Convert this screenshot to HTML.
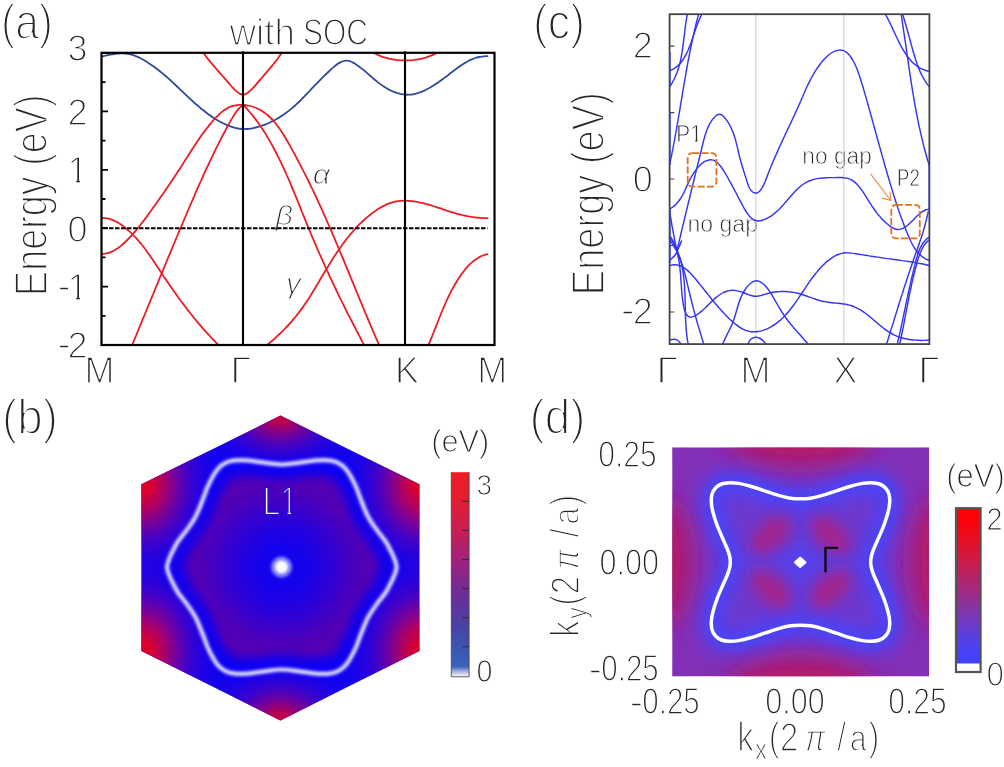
<!DOCTYPE html>
<html lang="en"><head><meta charset="utf-8"><title>Band structures and Fermi surfaces</title>
<style>
html,body{margin:0;padding:0;background:#fff}
svg{display:block}
text{font-family:"Liberation Sans","DejaVu Sans",sans-serif;fill:#262626}
</style></head><body>
<svg width="1004" height="767" viewBox="0 0 1004 767">
<rect width="1004" height="767" fill="#fff"/>
<g id="panel-a">
<clipPath id="clipA"><rect x="101.5" y="53" width="393" height="292"/></clipPath>
<g clip-path="url(#clipA)" fill="none" stroke-width="1.8" stroke-linecap="round">
<path d="M101.5 56.5C102.2 56.4 104.2 55.9 105.5 55.6C106.9 55.4 108.2 55.1 109.6 54.8C110.9 54.5 112.3 54.3 113.6 54.0C114.9 53.8 116.3 53.6 117.6 53.5C118.9 53.4 120.2 53.3 121.6 53.3C122.9 53.3 124.2 53.3 125.5 53.5C126.8 53.6 128.1 53.8 129.3 54.1C130.6 54.4 131.9 54.7 133.1 55.2C134.4 55.6 135.7 56.0 136.9 56.6C138.1 57.1 139.4 57.7 140.6 58.3C141.8 58.9 143.0 59.6 144.2 60.2C145.4 60.9 146.5 61.6 147.7 62.4C148.8 63.1 150.0 63.9 151.1 64.7C152.2 65.4 153.3 66.2 154.4 67.0C155.5 67.8 156.6 68.7 157.7 69.5C158.7 70.3 159.8 71.2 160.8 72.0C161.9 72.9 162.9 73.7 163.9 74.6C165.0 75.5 166.0 76.3 167.0 77.2C168.0 78.1 169.0 79.0 170.0 79.9C171.0 80.8 172.0 81.7 172.9 82.6C173.9 83.5 174.9 84.5 175.9 85.4C176.8 86.3 177.8 87.2 178.8 88.1C179.8 89.1 180.7 90.0 181.7 90.9C182.7 91.8 183.6 92.8 184.6 93.7C185.6 94.6 186.5 95.5 187.5 96.4C188.5 97.3 189.5 98.3 190.5 99.2C191.4 100.1 192.4 101.0 193.4 101.9C194.4 102.8 195.4 103.7 196.4 104.6C197.5 105.4 198.5 106.3 199.5 107.2C200.5 108.0 201.6 108.9 202.6 109.8C203.7 110.6 204.7 111.4 205.8 112.3C206.9 113.1 208.0 113.9 209.1 114.7C210.2 115.5 211.3 116.3 212.4 117.0C213.5 117.8 214.7 118.5 215.8 119.2C217.0 119.9 218.2 120.6 219.3 121.3C220.5 121.9 221.7 122.6 222.9 123.2C224.1 123.8 225.4 124.3 226.6 124.9C227.8 125.4 229.1 125.9 230.4 126.3C231.6 126.8 232.9 127.2 234.2 127.6C235.5 127.9 236.8 128.2 238.1 128.5C239.4 128.7 240.7 128.9 242.0 129.0C243.4 129.1 244.7 129.1 246.0 129.0C247.3 129.0 248.7 128.8 250.0 128.7C251.3 128.5 252.6 128.2 254.0 127.9C255.3 127.7 256.6 127.3 257.9 126.9C259.2 126.6 260.5 126.2 261.8 125.7C263.1 125.3 264.3 124.8 265.6 124.3C266.9 123.8 268.1 123.3 269.4 122.7C270.6 122.1 271.8 121.5 273.0 120.9C274.2 120.3 275.4 119.6 276.6 119.0C277.8 118.3 279.0 117.6 280.1 116.9C281.3 116.2 282.4 115.4 283.5 114.7C284.7 113.9 285.8 113.1 286.8 112.3C287.9 111.5 289.0 110.7 290.0 109.8C291.1 109.0 292.1 108.1 293.1 107.3C294.1 106.4 295.1 105.5 296.0 104.6C297.0 103.7 298.0 102.8 298.9 101.9C299.9 101.0 300.8 100.0 301.7 99.1C302.7 98.2 303.6 97.2 304.5 96.3C305.4 95.3 306.3 94.4 307.2 93.4C308.2 92.4 309.1 91.5 310.0 90.5C310.9 89.5 311.8 88.6 312.7 87.6C313.7 86.6 314.6 85.7 315.5 84.7C316.5 83.7 317.4 82.8 318.3 81.8C319.3 80.8 320.3 79.8 321.2 78.9C322.2 77.9 323.2 76.9 324.2 75.9C325.2 75.0 326.2 74.0 327.2 73.0C328.3 72.0 329.3 71.0 330.4 70.0C331.4 69.0 332.5 68.0 333.6 67.1C334.7 66.2 335.8 65.3 336.9 64.5C338.0 63.7 339.2 63.0 340.3 62.4C341.5 61.8 342.7 61.3 343.8 61.0C345.0 60.7 346.2 60.6 347.4 60.7C348.5 60.7 349.7 61.1 350.9 61.5C352.1 62.0 353.2 62.7 354.4 63.3C355.5 64.0 356.6 64.8 357.7 65.5C358.8 66.3 359.9 67.1 360.9 67.9C362.0 68.7 363.0 69.6 364.1 70.4C365.1 71.3 366.1 72.2 367.2 73.1C368.2 74.0 369.2 74.9 370.2 75.8C371.3 76.7 372.3 77.6 373.3 78.5C374.4 79.3 375.4 80.2 376.5 81.1C377.6 82.0 378.6 82.8 379.7 83.6C380.8 84.5 381.9 85.3 383.1 86.0C384.2 86.8 385.4 87.6 386.6 88.2C387.7 88.9 388.9 89.6 390.2 90.2C391.4 90.8 392.6 91.4 393.9 91.9C395.1 92.4 396.4 92.8 397.6 93.2C398.9 93.6 400.2 93.9 401.4 94.2C402.7 94.4 404.0 94.6 405.2 94.7C406.5 94.8 407.7 94.8 409.0 94.7C410.2 94.6 411.5 94.5 412.7 94.3C414.0 94.1 415.2 93.8 416.5 93.5C417.7 93.1 418.9 92.7 420.1 92.3C421.4 91.9 422.6 91.4 423.8 90.8C425.0 90.3 426.2 89.7 427.4 89.0C428.6 88.4 429.8 87.7 431.0 87.0C432.2 86.3 433.4 85.6 434.5 84.8C435.7 84.1 436.9 83.3 438.1 82.5C439.2 81.7 440.4 80.8 441.5 80.0C442.7 79.1 443.8 78.3 445.0 77.4C446.1 76.6 447.2 75.7 448.4 74.9C449.5 74.0 450.6 73.1 451.7 72.3C452.8 71.4 453.9 70.6 455.0 69.8C456.1 68.9 457.2 68.1 458.3 67.3C459.4 66.6 460.5 65.8 461.6 65.0C462.7 64.3 463.8 63.6 464.9 62.9C466.0 62.3 467.1 61.6 468.3 61.0C469.4 60.4 470.5 59.9 471.7 59.4C472.9 58.9 474.1 58.4 475.4 58.0C476.6 57.6 477.9 57.3 479.2 57.0C480.5 56.8 481.8 56.5 483.2 56.4C484.6 56.3 486.8 56.2 487.5 56.2" stroke="#2d4b9d"/>
<path d="M200.0 48.0C200.3 48.5 201.4 50.1 202.1 51.1C202.8 52.1 203.5 53.0 204.2 54.0C204.9 55.0 205.6 55.9 206.3 56.8C207.0 57.7 207.7 58.7 208.4 59.6C209.2 60.5 209.9 61.4 210.6 62.2C211.4 63.1 212.1 64.0 212.8 64.9C213.6 65.8 214.3 66.6 215.1 67.5C215.8 68.4 216.6 69.3 217.4 70.1C218.2 71.0 218.9 71.9 219.7 72.8C220.5 73.7 221.3 74.6 222.1 75.5C222.9 76.4 223.7 77.3 224.5 78.2C225.3 79.2 226.2 80.1 227.0 81.1C227.8 82.1 228.7 83.1 229.5 84.0C230.4 85.0 231.3 86.0 232.1 87.0C233.0 88.0 233.9 88.9 234.7 89.8C235.6 90.6 236.5 91.5 237.4 92.1C238.3 92.8 239.2 93.5 240.1 93.9C241.0 94.3 241.9 94.7 242.8 94.7C243.7 94.7 244.6 94.5 245.5 94.1C246.4 93.7 247.3 93.1 248.1 92.5C249.0 91.8 249.9 91.0 250.8 90.2C251.7 89.4 252.6 88.5 253.4 87.5C254.3 86.6 255.2 85.6 256.0 84.6C256.9 83.6 257.7 82.6 258.5 81.6C259.4 80.7 260.2 79.7 261.0 78.8C261.8 77.8 262.6 76.9 263.4 76.0C264.2 75.0 265.0 74.1 265.8 73.2C266.6 72.3 267.3 71.4 268.1 70.5C268.9 69.6 269.6 68.7 270.4 67.8C271.1 66.9 271.8 66.1 272.6 65.2C273.3 64.3 274.0 63.4 274.7 62.5C275.4 61.6 276.2 60.6 276.9 59.7C277.6 58.8 278.3 57.9 278.9 56.9C279.6 56.0 280.3 55.0 281.0 54.1C281.7 53.1 282.3 52.1 283.0 51.1C283.7 50.1 284.7 48.5 285.0 48.0" stroke="#ec1c24"/>
<path d="M243.0 104.8C242.4 104.8 240.5 104.8 239.2 104.8C238.0 104.9 236.8 105.1 235.7 105.3C234.5 105.5 233.4 105.8 232.3 106.1C231.2 106.5 230.2 106.9 229.1 107.3C228.1 107.8 227.1 108.4 226.1 108.9C225.1 109.5 224.2 110.2 223.2 110.9C222.3 111.6 221.4 112.3 220.5 113.1C219.6 113.9 218.7 114.7 217.9 115.6C217.0 116.4 216.2 117.3 215.4 118.2C214.5 119.0 213.7 119.9 212.9 120.8C212.2 121.7 211.4 122.6 210.6 123.6C209.9 124.5 209.1 125.4 208.4 126.3C207.6 127.2 206.9 128.1 206.2 129.1C205.5 130.0 204.8 130.9 204.1 131.9C203.4 132.8 202.7 133.8 202.0 134.7C201.3 135.7 200.6 136.6 200.0 137.6C199.3 138.5 198.6 139.5 198.0 140.5C197.3 141.4 196.7 142.4 196.0 143.4C195.4 144.3 194.8 145.3 194.1 146.3C193.5 147.2 192.9 148.2 192.2 149.2C191.6 150.2 191.0 151.2 190.3 152.2C189.7 153.1 189.1 154.1 188.5 155.1C187.8 156.1 187.2 157.1 186.6 158.1C186.0 159.1 185.3 160.1 184.7 161.1C184.1 162.1 183.4 163.1 182.8 164.1C182.2 165.1 181.5 166.1 180.9 167.1C180.2 168.0 179.6 169.0 178.9 170.0C178.3 171.0 177.6 172.0 177.0 173.0C176.3 174.0 175.6 175.0 175.0 176.0C174.3 177.0 173.6 178.0 173.0 179.0C172.3 180.0 171.6 181.0 171.0 182.0C170.3 183.0 169.6 184.0 169.0 185.0C168.3 186.0 167.6 187.0 166.9 188.0C166.3 189.0 165.6 189.9 164.9 190.9C164.2 191.9 163.5 192.9 162.9 193.9C162.2 194.9 161.5 195.8 160.8 196.8C160.1 197.8 159.4 198.8 158.8 199.8C158.1 200.7 157.4 201.7 156.7 202.7C156.0 203.6 155.3 204.6 154.7 205.6C154.0 206.5 153.3 207.5 152.6 208.4C151.9 209.4 151.2 210.4 150.6 211.3C149.9 212.3 149.2 213.2 148.5 214.1C147.8 215.1 147.1 216.0 146.5 217.0C145.8 217.9 145.1 218.8 144.4 219.8C143.7 220.7 143.0 221.6 142.3 222.5C141.6 223.4 140.9 224.3 140.2 225.3C139.5 226.2 138.8 227.1 138.0 228.0C137.3 228.9 136.6 229.7 135.8 230.6C135.1 231.5 134.3 232.4 133.5 233.3C132.8 234.2 132.0 235.0 131.2 235.9C130.4 236.8 129.6 237.6 128.8 238.5C127.9 239.3 127.1 240.2 126.2 241.0C125.4 241.8 124.5 242.7 123.6 243.5C122.7 244.3 121.8 245.1 120.9 245.9C119.9 246.6 119.0 247.4 118.0 248.1C117.0 248.7 116.0 249.4 115.0 250.0C114.0 250.6 113.0 251.2 111.9 251.6C110.8 252.1 109.7 252.6 108.6 252.9C107.5 253.2 106.3 253.5 105.1 253.7C104.0 253.9 102.1 254.0 101.5 254.0" stroke="#ec1c24"/>
<path d="M243.0 104.8C242.6 105.2 241.2 106.3 240.4 107.1C239.5 107.9 238.8 108.8 238.0 109.6C237.3 110.5 236.6 111.4 235.9 112.3C235.3 113.3 234.6 114.2 234.0 115.2C233.4 116.1 232.8 117.1 232.2 118.1C231.6 119.1 231.1 120.1 230.5 121.1C229.9 122.1 229.4 123.1 228.8 124.1C228.2 125.1 227.7 126.1 227.1 127.2C226.6 128.2 226.0 129.2 225.5 130.2C224.9 131.2 224.4 132.2 223.9 133.3C223.3 134.3 222.8 135.3 222.3 136.3C221.7 137.4 221.2 138.4 220.7 139.4C220.1 140.5 219.6 141.5 219.1 142.5C218.5 143.6 218.0 144.6 217.5 145.7C217.0 146.7 216.5 147.7 215.9 148.8C215.4 149.8 214.9 150.9 214.4 151.9C213.9 153.0 213.4 154.0 212.9 155.1C212.4 156.1 211.9 157.2 211.4 158.2C210.9 159.3 210.4 160.3 209.9 161.4C209.4 162.4 208.9 163.5 208.4 164.6C207.9 165.6 207.4 166.7 206.9 167.7C206.4 168.8 205.9 169.9 205.4 170.9C204.9 172.0 204.4 173.1 203.9 174.1C203.5 175.2 203.0 176.3 202.5 177.3C202.0 178.4 201.5 179.5 201.1 180.5C200.6 181.6 200.1 182.7 199.6 183.7C199.1 184.8 198.7 185.9 198.2 187.0C197.7 188.0 197.3 189.1 196.8 190.2C196.3 191.3 195.8 192.3 195.4 193.4C194.9 194.5 194.4 195.6 194.0 196.6C193.5 197.7 193.0 198.8 192.6 199.9C192.1 200.9 191.6 202.0 191.2 203.1C190.7 204.2 190.3 205.2 189.8 206.3C189.3 207.4 188.9 208.5 188.4 209.6C187.9 210.6 187.5 211.7 187.0 212.8C186.6 213.9 186.1 214.9 185.7 216.0C185.2 217.1 184.7 218.2 184.3 219.3C183.8 220.3 183.4 221.4 182.9 222.5C182.5 223.6 182.0 224.6 181.6 225.7C181.1 226.8 180.6 227.9 180.2 228.9C179.7 230.0 179.3 231.1 178.8 232.2C178.4 233.2 177.9 234.3 177.5 235.4C177.0 236.5 176.6 237.6 176.1 238.6C175.7 239.7 175.2 240.8 174.8 241.9C174.3 242.9 173.9 244.0 173.4 245.1C173.0 246.2 172.5 247.2 172.1 248.3C171.6 249.4 171.2 250.5 170.7 251.5C170.3 252.6 169.8 253.7 169.4 254.8C168.9 255.8 168.5 256.9 168.0 258.0C167.6 259.1 167.2 260.1 166.7 261.2C166.3 262.3 165.8 263.4 165.4 264.4C164.9 265.5 164.5 266.6 164.0 267.7C163.6 268.7 163.1 269.8 162.7 270.9C162.3 272.0 161.8 273.0 161.4 274.1C160.9 275.2 160.5 276.3 160.0 277.3C159.6 278.4 159.1 279.5 158.7 280.6C158.3 281.7 157.8 282.7 157.4 283.8C156.9 284.9 156.5 286.0 156.0 287.0C155.6 288.1 155.2 289.2 154.7 290.3C154.3 291.3 153.8 292.4 153.4 293.5C152.9 294.6 152.5 295.6 152.0 296.7C151.6 297.8 151.2 298.9 150.7 299.9C150.3 301.0 149.8 302.1 149.4 303.2C148.9 304.3 148.5 305.3 148.1 306.4C147.6 307.5 147.2 308.6 146.7 309.6C146.3 310.7 145.8 311.8 145.4 312.9C145.0 314.0 144.5 315.0 144.1 316.1C143.6 317.2 143.2 318.3 142.7 319.3C142.3 320.4 141.8 321.5 141.4 322.6C141.0 323.7 140.5 324.7 140.1 325.8C139.6 326.9 139.2 328.0 138.7 329.1C138.3 330.1 137.8 331.2 137.4 332.3C137.0 333.4 136.5 334.4 136.1 335.5C135.6 336.6 135.2 337.7 134.7 338.8C134.3 339.9 133.8 340.9 133.4 342.0C132.9 343.1 132.5 344.2 132.0 345.3C131.6 346.3 131.1 347.4 130.7 348.5C130.2 349.6 129.8 350.7 129.3 351.8C128.9 352.8 128.2 354.5 128.0 355.0" stroke="#ec1c24"/>
<path d="M101.5 218.0C102.1 218.0 103.9 218.0 105.0 218.1C106.2 218.2 107.3 218.4 108.4 218.7C109.5 218.9 110.6 219.3 111.7 219.7C112.8 220.1 113.8 220.5 114.8 221.0C115.9 221.5 116.9 222.1 117.9 222.6C118.9 223.2 119.8 223.9 120.8 224.5C121.8 225.2 122.7 225.8 123.6 226.5C124.5 227.2 125.4 227.9 126.3 228.7C127.2 229.4 128.1 230.2 129.0 230.9C129.8 231.7 130.7 232.5 131.5 233.3C132.4 234.1 133.2 234.9 134.0 235.8C134.8 236.6 135.6 237.5 136.4 238.3C137.2 239.2 137.9 240.1 138.7 241.0C139.5 241.9 140.2 242.8 141.0 243.7C141.7 244.6 142.4 245.5 143.2 246.5C143.9 247.4 144.6 248.3 145.3 249.3C146.0 250.2 146.7 251.2 147.4 252.2C148.1 253.1 148.8 254.1 149.5 255.1C150.2 256.1 150.9 257.0 151.5 258.0C152.2 259.0 152.9 260.0 153.6 261.0C154.2 262.0 154.9 263.0 155.5 264.0C156.2 265.0 156.9 266.0 157.5 267.0C158.2 268.0 158.8 269.0 159.5 270.0C160.1 271.0 160.8 272.0 161.5 272.9C162.1 273.9 162.8 274.9 163.4 275.9C164.1 276.9 164.7 277.9 165.4 278.9C166.1 279.8 166.7 280.8 167.4 281.8C168.0 282.8 168.7 283.7 169.4 284.7C170.0 285.7 170.7 286.6 171.4 287.6C172.0 288.5 172.7 289.5 173.4 290.5C174.0 291.4 174.7 292.4 175.4 293.3C176.0 294.3 176.7 295.2 177.4 296.2C178.1 297.1 178.8 298.0 179.4 299.0C180.1 299.9 180.8 300.8 181.5 301.8C182.2 302.7 182.9 303.6 183.6 304.6C184.3 305.5 185.0 306.4 185.7 307.3C186.4 308.2 187.1 309.2 187.8 310.1C188.5 311.0 189.2 311.9 189.9 312.8C190.6 313.7 191.3 314.6 192.1 315.5C192.8 316.4 193.5 317.3 194.2 318.2C195.0 319.1 195.7 320.0 196.4 320.9C197.2 321.8 197.9 322.7 198.7 323.5C199.4 324.4 200.2 325.3 200.9 326.2C201.7 327.1 202.5 327.9 203.2 328.8C204.0 329.7 204.8 330.5 205.5 331.4C206.3 332.3 207.1 333.1 207.9 334.0C208.7 334.8 209.5 335.7 210.3 336.5C211.1 337.4 211.9 338.2 212.7 339.1C213.5 339.9 214.3 340.8 215.1 341.6C216.0 342.5 216.8 343.3 217.6 344.1C218.5 345.0 219.3 345.8 220.2 346.6C221.0 347.5 221.9 348.3 222.7 349.1C223.6 349.9 224.5 350.7 225.3 351.6C226.2 352.4 227.6 353.6 228.0 354.0" stroke="#ec1c24"/>
<path d="M243.0 104.8C243.6 104.9 245.5 105.1 246.8 105.3C248.0 105.5 249.2 105.7 250.3 106.0C251.5 106.3 252.6 106.6 253.7 107.0C254.8 107.4 255.8 107.8 256.9 108.3C257.9 108.7 258.9 109.3 259.9 109.8C260.9 110.3 261.8 110.9 262.8 111.5C263.7 112.1 264.6 112.8 265.5 113.4C266.4 114.1 267.2 114.8 268.1 115.5C268.9 116.3 269.7 117.0 270.5 117.8C271.3 118.6 272.1 119.4 272.9 120.2C273.6 121.1 274.4 121.9 275.1 122.8C275.8 123.7 276.5 124.6 277.2 125.5C277.9 126.4 278.6 127.4 279.3 128.3C280.0 129.3 280.6 130.2 281.3 131.2C281.9 132.2 282.5 133.2 283.2 134.2C283.8 135.2 284.4 136.2 285.0 137.2C285.6 138.2 286.2 139.2 286.8 140.3C287.4 141.3 288.0 142.3 288.6 143.4C289.2 144.4 289.8 145.4 290.4 146.5C291.0 147.5 291.5 148.6 292.1 149.6C292.7 150.6 293.2 151.7 293.8 152.7C294.4 153.8 295.0 154.8 295.5 155.9C296.1 156.9 296.6 157.9 297.2 159.0C297.7 160.0 298.3 161.1 298.8 162.1C299.4 163.2 299.9 164.2 300.5 165.3C301.0 166.3 301.6 167.4 302.1 168.4C302.7 169.5 303.2 170.5 303.7 171.6C304.3 172.6 304.8 173.7 305.3 174.7C305.8 175.8 306.4 176.8 306.9 177.9C307.4 178.9 307.9 180.0 308.5 181.1C309.0 182.1 309.5 183.2 310.0 184.2C310.5 185.3 311.0 186.3 311.5 187.4C312.1 188.5 312.6 189.5 313.1 190.6C313.6 191.6 314.1 192.7 314.6 193.8C315.1 194.8 315.6 195.9 316.1 196.9C316.6 198.0 317.1 199.1 317.6 200.1C318.0 201.2 318.5 202.3 319.0 203.3C319.5 204.4 320.0 205.4 320.5 206.5C321.0 207.6 321.5 208.6 321.9 209.7C322.4 210.8 322.9 211.8 323.4 212.9C323.9 214.0 324.3 215.0 324.8 216.1C325.3 217.2 325.8 218.2 326.2 219.3C326.7 220.4 327.2 221.5 327.6 222.5C328.1 223.6 328.6 224.7 329.0 225.7C329.5 226.8 330.0 227.9 330.4 229.0C330.9 230.0 331.4 231.1 331.8 232.2C332.3 233.2 332.7 234.3 333.2 235.4C333.7 236.5 334.1 237.5 334.6 238.6C335.0 239.7 335.5 240.8 335.9 241.8C336.4 242.9 336.9 244.0 337.3 245.0C337.8 246.1 338.2 247.2 338.7 248.3C339.1 249.4 339.6 250.4 340.0 251.5C340.5 252.6 340.9 253.7 341.4 254.7C341.8 255.8 342.3 256.9 342.7 258.0C343.2 259.0 343.6 260.1 344.0 261.2C344.5 262.3 344.9 263.3 345.4 264.4C345.8 265.5 346.3 266.6 346.7 267.7C347.2 268.7 347.6 269.8 348.1 270.9C348.5 272.0 348.9 273.1 349.4 274.1C349.8 275.2 350.3 276.3 350.7 277.4C351.2 278.4 351.6 279.5 352.0 280.6C352.5 281.7 352.9 282.8 353.4 283.8C353.8 284.9 354.3 286.0 354.7 287.1C355.1 288.2 355.6 289.2 356.0 290.3C356.5 291.4 356.9 292.5 357.4 293.6C357.8 294.6 358.3 295.7 358.7 296.8C359.1 297.9 359.6 299.0 360.0 300.0C360.5 301.1 360.9 302.2 361.4 303.3C361.8 304.4 362.3 305.4 362.7 306.5C363.2 307.6 363.6 308.7 364.1 309.8C364.5 310.8 365.0 311.9 365.4 313.0C365.9 314.1 366.3 315.2 366.8 316.2C367.2 317.3 367.7 318.4 368.1 319.5C368.6 320.5 369.0 321.6 369.5 322.7C369.9 323.8 370.4 324.9 370.8 325.9C371.3 327.0 371.8 328.1 372.2 329.2C372.7 330.3 373.1 331.3 373.6 332.4C374.1 333.5 374.5 334.6 375.0 335.6C375.5 336.7 375.9 337.8 376.4 338.9C376.9 339.9 377.3 341.0 377.8 342.1C378.3 343.2 378.7 344.3 379.2 345.3C379.7 346.4 380.2 347.5 380.6 348.6C381.1 349.6 381.6 350.7 382.1 351.8C382.5 352.9 383.3 354.5 383.5 355.0" stroke="#ec1c24"/>
<path d="M243.0 104.8C243.4 105.2 244.7 106.5 245.5 107.3C246.3 108.2 247.1 109.0 247.8 109.9C248.6 110.7 249.4 111.6 250.1 112.5C250.9 113.4 251.6 114.3 252.4 115.2C253.1 116.1 253.8 117.0 254.5 117.9C255.2 118.8 255.9 119.7 256.6 120.7C257.3 121.6 258.0 122.5 258.7 123.5C259.3 124.4 260.0 125.4 260.6 126.3C261.3 127.3 261.9 128.3 262.6 129.2C263.2 130.2 263.8 131.2 264.4 132.1C265.1 133.1 265.7 134.1 266.3 135.1C266.9 136.1 267.5 137.1 268.1 138.1C268.7 139.1 269.2 140.1 269.8 141.1C270.4 142.1 271.0 143.1 271.5 144.1C272.1 145.1 272.6 146.2 273.2 147.2C273.8 148.2 274.3 149.2 274.8 150.2C275.4 151.3 275.9 152.3 276.4 153.3C277.0 154.4 277.5 155.4 278.0 156.5C278.5 157.5 279.1 158.5 279.6 159.6C280.1 160.6 280.6 161.7 281.1 162.7C281.6 163.8 282.1 164.9 282.6 165.9C283.1 167.0 283.6 168.0 284.1 169.1C284.6 170.2 285.0 171.2 285.5 172.3C286.0 173.4 286.5 174.4 286.9 175.5C287.4 176.6 287.9 177.7 288.4 178.7C288.8 179.8 289.3 180.9 289.8 182.0C290.2 183.0 290.7 184.1 291.1 185.2C291.6 186.3 292.0 187.4 292.5 188.5C293.0 189.5 293.4 190.6 293.9 191.7C294.3 192.8 294.7 193.9 295.2 195.0C295.6 196.1 296.1 197.1 296.5 198.2C297.0 199.3 297.4 200.4 297.9 201.5C298.3 202.6 298.7 203.7 299.2 204.8C299.6 205.9 300.1 207.0 300.5 208.1C300.9 209.2 301.4 210.2 301.8 211.3C302.3 212.4 302.7 213.5 303.1 214.6C303.6 215.7 304.0 216.8 304.5 217.9C304.9 219.0 305.3 220.1 305.8 221.2C306.2 222.2 306.7 223.3 307.1 224.4C307.5 225.5 308.0 226.6 308.4 227.7C308.9 228.8 309.3 229.8 309.8 230.9C310.2 232.0 310.7 233.1 311.1 234.2C311.6 235.3 312.0 236.3 312.5 237.4C313.0 238.5 313.4 239.6 313.9 240.7C314.3 241.7 314.8 242.8 315.2 243.9C315.7 245.0 316.2 246.0 316.6 247.1C317.1 248.2 317.6 249.2 318.0 250.3C318.5 251.4 319.0 252.5 319.4 253.5C319.9 254.6 320.4 255.7 320.9 256.7C321.3 257.8 321.8 258.9 322.3 259.9C322.8 261.0 323.2 262.1 323.7 263.1C324.2 264.2 324.7 265.2 325.2 266.3C325.6 267.4 326.1 268.4 326.6 269.5C327.1 270.6 327.6 271.6 328.1 272.7C328.5 273.7 329.0 274.8 329.5 275.8C330.0 276.9 330.5 278.0 331.0 279.0C331.5 280.1 332.0 281.1 332.5 282.2C333.0 283.2 333.5 284.3 334.0 285.3C334.5 286.4 335.0 287.4 335.5 288.5C336.0 289.5 336.5 290.6 337.0 291.6C337.5 292.7 338.0 293.7 338.5 294.8C339.0 295.8 339.5 296.9 340.0 297.9C340.6 299.0 341.1 300.0 341.6 301.1C342.1 302.1 342.6 303.2 343.1 304.2C343.6 305.2 344.2 306.3 344.7 307.3C345.2 308.4 345.7 309.4 346.2 310.5C346.8 311.5 347.3 312.5 347.8 313.6C348.3 314.6 348.9 315.7 349.4 316.7C349.9 317.7 350.4 318.8 351.0 319.8C351.5 320.9 352.0 321.9 352.6 322.9C353.1 324.0 353.6 325.0 354.2 326.1C354.7 327.1 355.3 328.1 355.8 329.2C356.3 330.2 356.9 331.2 357.4 332.3C358.0 333.3 358.5 334.4 359.0 335.4C359.6 336.4 360.1 337.5 360.7 338.5C361.2 339.5 361.8 340.6 362.3 341.6C362.9 342.6 363.4 343.7 364.0 344.7C364.5 345.7 365.1 346.8 365.6 347.8C366.2 348.8 366.8 349.9 367.3 350.9C367.9 351.9 368.7 353.5 369.0 354.0" stroke="#ec1c24"/>
<path d="M255.0 354.0C255.5 353.7 256.9 352.7 257.9 352.0C258.8 351.3 259.8 350.6 260.7 349.9C261.6 349.2 262.6 348.5 263.5 347.8C264.4 347.1 265.4 346.4 266.3 345.6C267.2 344.9 268.1 344.2 269.0 343.4C269.9 342.7 270.8 341.9 271.7 341.1C272.6 340.4 273.5 339.6 274.4 338.8C275.3 338.0 276.1 337.2 277.0 336.4C277.9 335.6 278.7 334.8 279.6 334.0C280.4 333.2 281.3 332.4 282.1 331.5C283.0 330.7 283.8 329.9 284.6 329.0C285.4 328.2 286.2 327.3 287.0 326.5C287.9 325.6 288.6 324.8 289.4 323.9C290.2 323.0 291.0 322.1 291.8 321.3C292.5 320.4 293.3 319.5 294.0 318.6C294.8 317.7 295.5 316.8 296.3 315.9C297.0 315.0 297.7 314.1 298.4 313.1C299.1 312.2 299.8 311.3 300.5 310.4C301.2 309.4 301.9 308.5 302.6 307.6C303.2 306.6 303.9 305.7 304.5 304.8C305.2 303.8 305.8 302.9 306.5 301.9C307.1 300.9 307.7 300.0 308.4 299.0C309.0 298.1 309.6 297.1 310.2 296.1C310.8 295.1 311.4 294.2 312.0 293.2C312.6 292.2 313.2 291.2 313.8 290.3C314.4 289.3 315.0 288.3 315.6 287.3C316.2 286.3 316.8 285.3 317.4 284.3C318.0 283.3 318.6 282.3 319.2 281.3C319.7 280.3 320.3 279.3 320.9 278.3C321.5 277.3 322.1 276.3 322.7 275.3C323.3 274.3 323.9 273.3 324.5 272.3C325.1 271.3 325.7 270.3 326.3 269.3C326.9 268.3 327.5 267.2 328.2 266.2C328.8 265.2 329.4 264.2 330.0 263.2C330.7 262.2 331.3 261.2 331.9 260.2C332.6 259.1 333.2 258.1 333.9 257.1C334.5 256.1 335.2 255.1 335.9 254.1C336.5 253.1 337.2 252.1 337.9 251.1C338.6 250.1 339.2 249.1 339.9 248.2C340.6 247.2 341.3 246.2 342.0 245.2C342.7 244.2 343.4 243.3 344.2 242.3C344.9 241.4 345.6 240.4 346.3 239.5C347.1 238.5 347.8 237.6 348.6 236.6C349.3 235.7 350.1 234.8 350.8 233.9C351.6 233.0 352.4 232.1 353.2 231.2C353.9 230.3 354.7 229.4 355.5 228.5C356.3 227.6 357.1 226.8 357.9 225.9C358.8 225.1 359.6 224.2 360.4 223.4C361.3 222.6 362.1 221.8 362.9 221.0C363.8 220.2 364.7 219.4 365.5 218.6C366.4 217.9 367.3 217.1 368.2 216.4C369.1 215.6 370.0 214.9 370.9 214.2C371.8 213.5 372.7 212.8 373.6 212.1C374.6 211.4 375.5 210.8 376.4 210.1C377.4 209.5 378.4 208.9 379.3 208.3C380.3 207.7 381.3 207.1 382.3 206.6C383.3 206.0 384.3 205.5 385.3 205.1C386.3 204.6 387.3 204.1 388.4 203.7C389.4 203.3 390.5 202.9 391.5 202.6C392.6 202.3 393.7 202.0 394.8 201.7C395.8 201.5 396.9 201.3 398.1 201.1C399.2 201.0 400.3 200.9 401.4 200.8C402.5 200.7 403.7 200.7 404.8 200.7C406.0 200.7 407.1 200.7 408.3 200.8C409.5 200.9 410.6 201.0 411.8 201.1C413.0 201.3 414.1 201.4 415.3 201.6C416.5 201.8 417.7 202.0 418.8 202.3C420.0 202.5 421.2 202.8 422.4 203.0C423.5 203.3 424.7 203.6 425.9 203.9C427.1 204.2 428.2 204.6 429.4 204.9C430.6 205.3 431.7 205.6 432.9 206.0C434.0 206.3 435.2 206.7 436.3 207.1C437.5 207.5 438.6 207.9 439.7 208.2C440.9 208.6 442.0 209.0 443.1 209.4C444.3 209.8 445.4 210.1 446.5 210.5C447.7 210.9 448.8 211.3 449.9 211.6C451.0 212.0 452.2 212.3 453.3 212.7C454.4 213.0 455.5 213.3 456.6 213.6C457.7 214.0 458.9 214.3 460.0 214.5C461.1 214.8 462.2 215.1 463.3 215.3C464.5 215.6 465.6 215.8 466.7 216.0C467.8 216.3 469.0 216.5 470.1 216.7C471.2 216.8 472.4 217.0 473.5 217.2C474.6 217.3 475.8 217.5 476.9 217.6C478.1 217.7 479.2 217.8 480.4 217.9C481.6 218.0 482.7 218.1 483.9 218.1C485.1 218.2 486.9 218.2 487.5 218.2" stroke="#ec1c24"/>
<path d="M424.0 355.0C424.2 354.5 425.0 352.9 425.5 351.8C426.0 350.8 426.4 349.7 426.9 348.7C427.4 347.6 427.8 346.5 428.3 345.5C428.8 344.4 429.2 343.3 429.7 342.2C430.1 341.2 430.6 340.1 431.0 339.0C431.4 337.9 431.9 336.8 432.3 335.7C432.7 334.6 433.2 333.5 433.6 332.5C434.0 331.4 434.5 330.3 434.9 329.2C435.3 328.1 435.8 327.0 436.2 325.9C436.6 324.8 437.0 323.7 437.5 322.6C437.9 321.5 438.3 320.4 438.8 319.3C439.2 318.2 439.6 317.1 440.1 316.0C440.5 314.9 441.0 313.8 441.4 312.7C441.8 311.7 442.3 310.6 442.8 309.5C443.2 308.4 443.7 307.3 444.1 306.2C444.6 305.1 445.1 304.1 445.6 303.0C446.0 301.9 446.5 300.8 447.0 299.8C447.5 298.7 448.0 297.6 448.5 296.6C449.0 295.5 449.6 294.4 450.1 293.4C450.6 292.3 451.2 291.3 451.7 290.2C452.3 289.2 452.8 288.2 453.4 287.1C454.0 286.1 454.6 285.1 455.2 284.0C455.7 283.0 456.4 282.0 457.0 281.0C457.6 280.0 458.2 279.0 458.9 278.0C459.5 277.0 460.2 276.0 460.9 275.0C461.6 274.1 462.3 273.1 463.0 272.2C463.7 271.2 464.4 270.3 465.2 269.4C465.9 268.5 466.7 267.6 467.5 266.7C468.3 265.8 469.1 265.0 469.9 264.2C470.8 263.4 471.6 262.6 472.5 261.9C473.4 261.1 474.3 260.4 475.2 259.8C476.1 259.1 477.0 258.5 478.0 257.9C479.0 257.3 480.0 256.8 481.0 256.3C482.0 255.8 483.1 255.4 484.2 255.0C485.3 254.7 486.9 254.3 487.5 254.1" stroke="#ec1c24"/>
<path d="M366.0 48.0C366.5 48.3 367.9 49.4 368.8 50.0C369.8 50.6 370.8 51.3 371.8 51.8C372.8 52.4 373.8 53.0 374.9 53.5C375.9 54.0 376.9 54.5 378.0 55.0C379.1 55.4 380.2 55.9 381.3 56.3C382.4 56.7 383.5 57.1 384.6 57.4C385.7 57.7 386.8 58.1 388.0 58.4C389.1 58.6 390.3 58.9 391.4 59.1C392.6 59.4 393.7 59.6 394.9 59.7C396.1 59.9 397.2 60.1 398.4 60.2C399.6 60.3 400.8 60.4 401.9 60.4C403.1 60.5 404.3 60.5 405.5 60.5C406.7 60.5 407.9 60.5 409.0 60.4C410.2 60.4 411.4 60.3 412.6 60.2C413.8 60.0 414.9 59.9 416.1 59.7C417.3 59.5 418.4 59.3 419.6 59.1C420.7 58.9 421.9 58.6 423.0 58.3C424.2 58.0 425.3 57.7 426.4 57.4C427.5 57.0 428.6 56.6 429.7 56.2C430.8 55.8 431.9 55.4 433.0 54.9C434.1 54.5 435.1 54.0 436.1 53.5C437.2 52.9 438.2 52.4 439.2 51.8C440.2 51.2 441.2 50.6 442.2 50.0C443.1 49.4 444.5 48.3 445.0 48.0" stroke="#ec1c24"/>
</g>
<text x="312.8" y="184.0" font-size="28.5" textLength="17.5" lengthAdjust="spacingAndGlyphs" stroke="#fff" stroke-width="1.20" font-style="italic">α</text>
<text x="275.5" y="225.0" font-size="28.5" textLength="17.5" lengthAdjust="spacingAndGlyphs" stroke="#fff" stroke-width="1.20" font-style="italic">β</text>
<text x="286.0" y="292.7" font-size="28.5" textLength="15.0" lengthAdjust="spacingAndGlyphs" stroke="#fff" stroke-width="1.20" font-style="italic">γ</text>
<path d="M103 228.3H487.5" stroke="#000" stroke-width="2.1" stroke-dasharray="4.5 1.5" fill="none"/>
<path d="M243 51.2V345M405 51.2V345" stroke="#000" stroke-width="2.1" fill="none"/>
<rect x="101.5" y="52.8" width="393" height="292.2" fill="none" stroke="#000" stroke-width="2.2"/>
<path d="M101.5 53.0h6.5M101.5 82.2h4.0M101.5 111.4h6.5M101.5 140.6h4.0M101.5 169.8h6.5M101.5 199.0h4.0M101.5 228.2h6.5M101.5 257.4h4.0M101.5 286.6h6.5M101.5 315.8h4.0M101.5 345.0h6.5" stroke="#000" stroke-width="1.8" fill="none"/>
<text x="87.5" y="61.3" font-size="36.0" text-anchor="end" stroke="#fff" stroke-width="1.45">3</text>
<text x="87.5" y="124.7" font-size="36.0" text-anchor="end" stroke="#fff" stroke-width="1.45">2</text>
<text x="87.5" y="241.5" font-size="36.0" text-anchor="end" stroke="#fff" stroke-width="1.45">0</text>
<clipPath id="one1"><path d="M65.5 147.1H89.5V179.0H79.9V185.1H76.3V179.0H65.5Z"/></clipPath>
<text x="67.5" y="183.1" font-size="36.0" clip-path="url(#one1)" stroke="#fff" stroke-width="1.45">1</text>
<clipPath id="one2"><path d="M65.5 263.9H89.5V295.8H79.9V301.9H76.3V295.8H65.5Z"/></clipPath>
<text x="67.5" y="299.9" font-size="36.0" clip-path="url(#one2)" stroke="#fff" stroke-width="1.45">1</text>
<text x="87.5" y="358.3" font-size="36.0" text-anchor="end" stroke="#fff" stroke-width="1.45">2</text>
<text x="57.7" y="297.6" font-size="36.0" textLength="12.7" lengthAdjust="spacingAndGlyphs" stroke="#fff" stroke-width="1.35">-</text>
<text x="57.7" y="356.0" font-size="36.0" textLength="12.7" lengthAdjust="spacingAndGlyphs" stroke="#fff" stroke-width="1.35">-</text>
<text transform="translate(47.0 195.2) rotate(-90)" font-size="45.5" text-anchor="middle" textLength="201.5" lengthAdjust="spacingAndGlyphs" stroke="#fff" stroke-width="1.80">Energy (eV)</text>
<text x="1.0" y="38.5" font-size="50.0" textLength="52.0" lengthAdjust="spacingAndGlyphs" stroke="#fff" stroke-width="2.00">(a)</text>
<text y="45.4" font-size="36.5" stroke="#fff" stroke-width="1.5"><tspan x="229.4" textLength="65.5" lengthAdjust="spacingAndGlyphs">with</tspan><tspan> </tspan><tspan x="302.9" textLength="65" lengthAdjust="spacingAndGlyphs">SOC</tspan></text>
<text x="99.4" y="383.0" font-size="36.0" text-anchor="middle" stroke="#fff" stroke-width="1.45">M</text>
<text x="407.0" y="383.0" font-size="36.0" text-anchor="middle" stroke="#fff" stroke-width="1.45">K</text>
<text x="492.2" y="383.0" font-size="36.0" text-anchor="middle" stroke="#fff" stroke-width="1.45">M</text>
<text x="230.6" y="383.0" font-size="36.0" textLength="20.5" lengthAdjust="spacingAndGlyphs" stroke="#fff" stroke-width="1.45">Γ</text>
</g>
<g id="panel-c">
<clipPath id="clipC"><rect x="669.6" y="14.2" width="259.8" height="329.9"/></clipPath>
<text x="687.4" y="232.0" font-size="23.0" textLength="70.6" lengthAdjust="spacingAndGlyphs" stroke="#fff" stroke-width="0.80">no gap</text>
<text x="802.3" y="163.5" font-size="23.0" textLength="69.5" lengthAdjust="spacingAndGlyphs" stroke="#fff" stroke-width="0.80">no gap</text>
<text x="676.3" y="141.8" font-size="24.5" textLength="13.9" lengthAdjust="spacingAndGlyphs" stroke="#fff" stroke-width="0.80">P</text>
<clipPath id="one3"><path d="M688.2 117.3H703.8V138.9H697.5V143.8H695.2V138.9H688.2Z"/></clipPath>
<text x="690.2" y="141.8" font-size="24.5" clip-path="url(#one3)" textLength="11.6" lengthAdjust="spacingAndGlyphs" stroke="#fff" stroke-width="0.80">1</text>
<text x="897.1" y="185.6" font-size="24.5" textLength="22.7" lengthAdjust="spacingAndGlyphs" stroke="#fff" stroke-width="0.80">P2</text>
<path d="M755.8 14.2V344.1M843.8 14.2V344.1" stroke="#d2d2d2" stroke-width="1.1" fill="none"/>
<g clip-path="url(#clipC)" fill="none" stroke="#3434f8" stroke-width="1.45" stroke-linecap="round" stroke-linejoin="round">
<path d="M669.6 211.4C670.1 214.5 671.8 224.7 672.8 230.2C673.8 235.7 674.9 241.2 675.6 244.5C676.3 247.8 676.9 248.9 677.2 249.8"/>
<path d="M677.2 249.8C677.4 249.1 677.8 247.1 678.1 245.8C678.4 244.5 678.7 243.2 679.0 241.9C679.4 240.5 679.7 239.2 680.0 237.9C680.3 236.6 680.6 235.3 680.9 234.0C681.2 232.7 681.5 231.4 681.8 230.1C682.1 228.8 682.4 227.5 682.7 226.2C683.1 224.9 683.4 223.6 683.7 222.3C684.0 221.0 684.3 219.7 684.6 218.4C684.9 217.1 685.2 215.9 685.5 214.6C685.8 213.3 686.1 212.0 686.5 210.7C686.8 209.4 687.1 208.2 687.4 206.9C687.7 205.6 688.0 204.3 688.3 203.0C688.6 201.7 688.9 200.5 689.3 199.2C689.6 197.9 689.9 196.6 690.2 195.3C690.5 194.0 690.8 192.8 691.1 191.5C691.4 190.2 691.8 188.9 692.1 187.6C692.4 186.3 692.7 185.1 693.0 183.8C693.3 182.5 693.7 181.2 694.0 179.9C694.3 178.6 694.6 177.3 694.9 176.0C695.2 174.7 695.6 173.4 695.9 172.1C696.2 170.8 696.5 169.5 696.8 168.2C697.2 166.9 697.5 165.6 697.8 164.3C698.1 163.0 698.5 161.6 698.8 160.3C699.1 159.0 699.4 157.7 699.8 156.3C700.1 155.0 700.4 153.7 700.7 152.4C701.1 151.0 701.4 149.7 701.7 148.3C702.0 147.0 702.4 145.6 702.7 144.3C703.0 142.9 703.4 141.6 703.7 140.2C704.1 138.9 704.5 137.6 704.8 136.2C705.2 134.9 705.6 133.6 706.1 132.3C706.5 131.0 707.0 129.8 707.5 128.5C708.0 127.3 708.6 126.1 709.2 124.9C709.8 123.8 710.4 122.6 711.1 121.6C711.8 120.5 712.5 119.4 713.3 118.4C714.1 117.5 715.0 116.4 715.9 115.7C716.8 115.0 717.8 114.3 718.8 114.2C719.7 114.1 720.8 114.4 721.7 114.9C722.7 115.5 723.6 116.5 724.5 117.5C725.5 118.5 726.3 119.7 727.1 120.9C727.9 122.1 728.7 123.3 729.4 124.5C730.0 125.8 730.7 127.0 731.3 128.3C731.8 129.5 732.4 130.8 732.9 132.1C733.4 133.4 733.8 134.7 734.3 136.0C734.7 137.3 735.1 138.6 735.5 139.9C735.8 141.2 736.2 142.6 736.5 143.9C736.9 145.2 737.2 146.5 737.5 147.8C737.8 149.1 738.1 150.5 738.4 151.8C738.7 153.1 739.0 154.4 739.3 155.7C739.6 156.9 739.9 158.2 740.3 159.5C740.6 160.7 740.9 162.0 741.3 163.2C741.7 164.5 742.0 165.7 742.4 166.9C742.8 168.2 743.2 169.4 743.6 170.7C744.0 171.9 744.4 173.2 744.8 174.5C745.3 175.8 745.7 177.2 746.1 178.6C746.5 179.9 746.9 181.4 747.4 182.8C747.9 184.2 748.4 185.7 748.9 187.0C749.5 188.2 750.2 189.5 751.0 190.4C751.8 191.4 752.8 192.2 753.8 192.6C754.8 193.1 755.8 193.2 756.8 193.0C757.7 192.8 758.5 192.2 759.3 191.5C760.1 190.8 760.8 189.8 761.5 188.8C762.2 187.7 762.8 186.6 763.4 185.4C764.0 184.2 764.5 182.9 765.1 181.6C765.6 180.3 766.1 178.9 766.7 177.6C767.2 176.2 767.7 174.9 768.2 173.5C768.7 172.2 769.3 170.8 769.8 169.5C770.3 168.2 770.9 166.9 771.4 165.6C771.9 164.3 772.5 163.0 773.0 161.8C773.5 160.5 774.1 159.2 774.6 158.0C775.2 156.7 775.7 155.4 776.3 154.2C776.8 153.0 777.4 151.7 777.9 150.5C778.5 149.3 779.0 148.0 779.6 146.8C780.1 145.6 780.7 144.4 781.2 143.2C781.8 142.0 782.3 140.8 782.9 139.6C783.5 138.4 784.0 137.2 784.6 136.0C785.1 134.8 785.7 133.6 786.3 132.4C786.8 131.3 787.4 130.1 787.9 128.9C788.5 127.7 789.0 126.5 789.6 125.3C790.1 124.2 790.7 123.0 791.3 121.8C791.8 120.6 792.4 119.4 792.9 118.2C793.5 117.0 794.0 115.9 794.6 114.7C795.1 113.5 795.7 112.3 796.2 111.1C796.8 109.9 797.3 108.7 797.8 107.5C798.4 106.3 798.9 105.1 799.5 103.9C800.0 102.6 800.5 101.4 801.1 100.2C801.6 99.0 802.1 97.7 802.7 96.5C803.2 95.3 803.7 94.0 804.3 92.8C804.8 91.6 805.4 90.3 805.9 89.1C806.5 87.9 807.0 86.6 807.6 85.4C808.2 84.2 808.8 83.0 809.4 81.8C810.0 80.6 810.6 79.3 811.2 78.2C811.9 77.0 812.5 75.8 813.2 74.6C813.8 73.4 814.5 72.3 815.2 71.1C816.0 70.0 816.7 68.9 817.5 67.8C818.2 66.7 819.0 65.6 819.8 64.5C820.7 63.4 821.5 62.4 822.4 61.3C823.3 60.3 824.2 59.3 825.1 58.3C826.1 57.3 827.1 56.4 828.1 55.5C829.1 54.6 830.2 53.7 831.3 53.0C832.5 52.2 833.7 51.6 835.0 51.1C836.3 50.6 837.7 50.3 839.0 50.1C840.3 50.0 841.6 50.1 842.8 50.4C844.0 50.7 845.1 51.3 846.2 52.1C847.2 52.8 848.1 53.7 849.0 54.7C849.9 55.7 850.7 56.9 851.5 58.0C852.2 59.1 852.9 60.3 853.5 61.5C854.2 62.7 854.8 63.9 855.4 65.2C855.9 66.4 856.4 67.6 856.9 68.8C857.4 70.0 857.9 71.3 858.3 72.5C858.8 73.8 859.2 75.0 859.6 76.3C860.0 77.5 860.4 78.8 860.8 80.1C861.2 81.3 861.6 82.6 862.0 83.9C862.4 85.2 862.8 86.4 863.2 87.7C863.6 89.0 863.9 90.3 864.3 91.6C864.7 92.9 865.1 94.2 865.4 95.5C865.8 96.8 866.2 98.1 866.5 99.4C866.9 100.7 867.3 102.0 867.6 103.3C868.0 104.6 868.4 105.8 868.7 107.1C869.1 108.4 869.5 109.7 869.8 111.0C870.2 112.3 870.5 113.6 870.9 114.9C871.2 116.2 871.6 117.5 872.0 118.8C872.3 120.1 872.7 121.4 873.0 122.7C873.4 124.0 873.7 125.3 874.1 126.5C874.4 127.8 874.8 129.1 875.2 130.4C875.5 131.7 875.9 133.0 876.2 134.3C876.6 135.6 876.9 136.9 877.3 138.2C877.6 139.4 878.0 140.7 878.3 142.0C878.7 143.3 879.1 144.6 879.4 145.9C879.8 147.2 880.1 148.4 880.5 149.7C880.8 151.0 881.2 152.3 881.6 153.6C881.9 154.9 882.3 156.2 882.6 157.4C883.0 158.7 883.4 160.0 883.7 161.3C884.1 162.6 884.4 163.8 884.8 165.1C885.2 166.4 885.5 167.7 885.9 169.0C886.3 170.2 886.7 171.5 887.0 172.8C887.4 174.1 887.8 175.4 888.1 176.6C888.5 177.9 888.9 179.2 889.3 180.5C889.7 181.7 890.0 183.0 890.4 184.3C890.8 185.6 891.2 186.8 891.6 188.1C892.0 189.4 892.4 190.7 892.7 191.9C893.1 193.2 893.5 194.5 893.9 195.8C894.3 197.0 894.7 198.3 895.1 199.6C895.5 200.8 895.9 202.1 896.4 203.4C896.8 204.6 897.2 205.9 897.6 207.2C898.0 208.4 898.5 209.7 898.9 211.0C899.3 212.2 899.8 213.5 900.2 214.8C900.7 216.0 901.1 217.3 901.6 218.6C902.0 219.8 902.5 221.1 903.0 222.3C903.4 223.6 903.9 224.9 904.4 226.1C904.9 227.4 905.4 228.6 905.9 229.9C906.4 231.2 906.9 232.4 907.5 233.7C908.0 234.9 908.5 236.2 909.1 237.4C909.6 238.7 910.2 239.9 910.8 241.2C911.4 242.4 912.0 243.6 912.6 244.8C913.2 246.0 913.9 247.1 914.6 248.2C915.4 249.3 916.1 250.4 916.9 251.4C917.7 252.4 918.6 253.4 919.5 254.3C920.4 255.2 921.4 256.1 922.4 256.8C923.4 257.6 924.5 258.3 925.7 258.9C926.9 259.5 928.9 260.2 929.5 260.5"/>
<path d="M669.7 209.1C670.3 208.7 672.1 207.6 673.1 206.8C674.2 206.0 675.1 205.1 676.1 204.2C677.0 203.2 677.8 202.3 678.6 201.2C679.4 200.2 680.1 199.2 680.8 198.1C681.4 197.0 682.1 195.9 682.7 194.8C683.3 193.6 683.9 192.4 684.5 191.3C685.0 190.1 685.6 188.9 686.1 187.7C686.7 186.5 687.2 185.2 687.8 184.0C688.4 182.8 689.0 181.5 689.6 180.3C690.2 179.1 690.8 177.9 691.5 176.7C692.2 175.5 692.9 174.3 693.6 173.1C694.4 171.9 695.2 170.7 696.1 169.6C697.0 168.5 698.0 167.3 699.0 166.3C700.0 165.3 701.1 164.3 702.1 163.4C703.2 162.6 704.3 161.8 705.4 161.2C706.5 160.7 707.7 160.2 708.8 160.0C709.9 159.7 711.0 159.7 712.0 159.9C713.0 160.0 714.1 160.5 715.1 161.0C716.0 161.6 717.0 162.4 717.9 163.3C718.9 164.1 719.7 165.2 720.6 166.3C721.5 167.4 722.3 168.6 723.1 169.8C723.9 171.1 724.7 172.4 725.5 173.7C726.2 174.9 726.9 176.3 727.7 177.5C728.4 178.8 729.0 180.0 729.7 181.2C730.3 182.3 731.0 183.5 731.6 184.6C732.2 185.8 732.8 186.9 733.4 188.0C734.0 189.1 734.6 190.2 735.2 191.3C735.8 192.5 736.4 193.6 737.0 194.7C737.5 195.8 738.1 197.0 738.7 198.1C739.4 199.3 740.0 200.5 740.6 201.7C741.3 202.9 741.9 204.2 742.6 205.5C743.3 206.8 744.0 208.1 744.7 209.3C745.4 210.6 746.2 211.8 747.0 213.0C747.8 214.1 748.6 215.3 749.5 216.2C750.4 217.2 751.3 218.1 752.3 218.8C753.2 219.5 754.2 220.0 755.3 220.4C756.4 220.8 757.5 220.9 758.7 220.9C759.8 220.9 761.1 220.7 762.3 220.3C763.5 220.0 764.8 219.5 766.0 218.9C767.2 218.4 768.5 217.6 769.7 216.9C770.9 216.2 772.1 215.3 773.2 214.5C774.3 213.6 775.4 212.7 776.4 211.8C777.5 210.9 778.5 209.9 779.4 209.0C780.4 208.0 781.3 207.1 782.2 206.1C783.1 205.1 784.0 204.1 784.8 203.1C785.7 202.1 786.6 201.0 787.4 200.0C788.3 199.0 789.2 198.0 790.1 197.0C790.9 195.9 791.8 194.9 792.7 193.9C793.6 193.0 794.5 192.0 795.4 191.0C796.4 190.1 797.3 189.2 798.3 188.3C799.2 187.4 800.2 186.6 801.2 185.8C802.2 185.0 803.3 184.2 804.4 183.5C805.4 182.8 806.5 182.2 807.7 181.6C808.8 181.1 810.0 180.6 811.3 180.2C812.5 179.7 813.8 179.4 815.1 179.1C816.4 178.8 817.7 178.6 819.1 178.4C820.4 178.2 821.8 178.1 823.2 178.0C824.6 177.9 826.0 177.8 827.4 177.7C828.8 177.7 830.2 177.6 831.6 177.6C833.0 177.5 834.4 177.5 835.8 177.5C837.2 177.4 838.6 177.4 839.9 177.4C841.2 177.5 842.5 177.5 843.8 177.7C845.1 177.8 846.3 178.0 847.5 178.4C848.7 178.7 849.9 179.1 851.0 179.6C852.1 180.2 853.1 180.8 854.1 181.6C855.1 182.4 856.1 183.3 857.0 184.2C857.9 185.1 858.8 186.2 859.6 187.3C860.4 188.3 861.3 189.5 862.1 190.6C862.9 191.8 863.6 193.0 864.4 194.2C865.1 195.3 865.9 196.5 866.6 197.7C867.4 198.9 868.1 200.1 868.9 201.2C869.6 202.4 870.3 203.5 871.1 204.7C871.8 205.8 872.6 206.9 873.3 208.0C874.1 209.1 874.9 210.2 875.6 211.3C876.4 212.3 877.2 213.4 878.0 214.4C878.9 215.4 879.7 216.5 880.6 217.4C881.5 218.4 882.4 219.4 883.3 220.3C884.2 221.3 885.2 222.2 886.2 223.0C887.2 223.9 888.2 224.8 889.3 225.6C890.4 226.4 891.5 227.2 892.7 227.8C893.8 228.5 895.0 229.0 896.2 229.3C897.4 229.6 898.6 229.6 899.8 229.4C900.9 229.2 902.1 228.8 903.3 228.2C904.4 227.6 905.6 226.8 906.7 226.0C907.7 225.2 908.8 224.2 909.8 223.3C910.9 222.3 911.9 221.3 912.9 220.3C913.9 219.2 914.8 218.2 915.8 217.2C916.8 216.2 917.8 215.2 918.9 214.3C919.9 213.4 920.9 212.5 922.0 211.8C923.1 211.1 924.3 210.5 925.4 210.0C926.6 209.6 928.6 209.3 929.2 209.1"/>
<path d="M669.5 265.7C670.2 265.6 672.2 264.9 673.5 264.8C674.8 264.7 676.1 264.8 677.3 265.0C678.5 265.2 679.7 265.6 680.9 266.1C682.0 266.6 683.1 267.2 684.2 267.9C685.3 268.6 686.3 269.5 687.4 270.4C688.4 271.2 689.4 272.2 690.3 273.2C691.3 274.2 692.3 275.3 693.2 276.3C694.1 277.4 695.1 278.5 696.0 279.5C696.9 280.6 697.7 281.7 698.6 282.7C699.5 283.8 700.3 284.9 701.2 285.9C702.1 287.0 702.9 288.1 703.7 289.1C704.6 290.2 705.4 291.2 706.3 292.3C707.1 293.4 707.9 294.4 708.7 295.5C709.6 296.5 710.4 297.5 711.2 298.6C712.1 299.6 712.9 300.7 713.8 301.7C714.6 302.7 715.5 303.8 716.3 304.8C717.2 305.8 718.1 306.8 718.9 307.8C719.8 308.8 720.7 309.8 721.6 310.8C722.5 311.8 723.5 312.8 724.4 313.8C725.4 314.8 726.3 315.8 727.3 316.8C728.3 317.7 729.3 318.7 730.3 319.7C731.4 320.6 732.4 321.6 733.5 322.5C734.6 323.5 735.7 324.4 736.8 325.2C738.0 326.1 739.1 326.9 740.3 327.7C741.4 328.4 742.6 329.1 743.8 329.6C745.0 330.2 746.2 330.6 747.5 330.9C748.7 331.3 749.9 331.5 751.2 331.7C752.4 331.8 753.7 331.8 754.9 331.8C756.2 331.8 757.4 331.6 758.7 331.4C759.9 331.2 761.2 330.9 762.4 330.6C763.6 330.2 764.8 329.8 766.0 329.3C767.2 328.8 768.4 328.3 769.6 327.7C770.7 327.1 771.9 326.4 773.0 325.7C774.1 325.0 775.2 324.2 776.3 323.4C777.3 322.6 778.4 321.8 779.4 320.9C780.4 320.1 781.4 319.2 782.4 318.2C783.3 317.3 784.3 316.3 785.2 315.3C786.2 314.3 787.1 313.3 788.0 312.2C788.9 311.2 789.7 310.1 790.6 309.0C791.5 308.0 792.3 306.8 793.1 305.7C794.0 304.6 794.8 303.5 795.6 302.3C796.4 301.2 797.2 300.1 798.0 298.9C798.8 297.8 799.6 296.6 800.3 295.4C801.1 294.3 801.9 293.1 802.7 292.0C803.4 290.8 804.2 289.7 804.9 288.5C805.7 287.4 806.5 286.2 807.2 285.1C808.0 284.0 808.8 282.9 809.5 281.7C810.3 280.6 811.1 279.5 811.9 278.4C812.7 277.3 813.5 276.3 814.3 275.2C815.1 274.1 816.0 273.1 816.8 272.1C817.7 271.0 818.5 270.0 819.4 269.0C820.3 268.0 821.2 267.1 822.2 266.1C823.1 265.2 824.1 264.2 825.0 263.3C826.0 262.4 827.0 261.5 828.1 260.7C829.1 259.8 830.2 259.0 831.3 258.3C832.4 257.5 833.5 256.8 834.6 256.2C835.8 255.5 837.0 255.0 838.1 254.5C839.3 254.0 840.5 253.6 841.8 253.4C843.0 253.1 844.2 252.9 845.5 252.8C846.7 252.8 848.0 252.8 849.3 252.9C850.6 253.0 851.9 253.2 853.2 253.4C854.5 253.5 855.8 253.8 857.1 254.0C858.4 254.2 859.8 254.4 861.1 254.6C862.4 254.8 863.8 255.0 865.1 255.2C866.5 255.4 867.8 255.6 869.2 255.9C870.6 256.1 871.9 256.3 873.3 256.5C874.6 256.7 876.0 256.9 877.4 257.1C878.8 257.3 880.1 257.5 881.5 257.8C882.9 258.0 884.3 258.2 885.6 258.4C887.0 258.5 888.4 258.7 889.8 258.9C891.1 259.1 892.5 259.3 893.9 259.5C895.2 259.7 896.6 259.8 898.0 260.0C899.3 260.2 900.7 260.4 902.1 260.6C903.4 260.7 904.8 260.9 906.1 261.1C907.5 261.3 908.8 261.5 910.1 261.7C911.5 261.9 912.8 262.1 914.1 262.4C915.4 262.6 916.8 262.8 918.1 263.1C919.4 263.3 920.6 263.6 921.9 263.8C923.2 264.1 924.5 264.4 925.7 264.7C927.0 265.0 928.9 265.5 929.5 265.7"/>
<path d="M669.6 236.0C670.0 236.5 671.1 237.8 671.8 238.9C672.5 239.9 673.1 241.1 673.7 242.4C674.3 243.6 674.8 245.0 675.3 246.3C675.7 247.7 676.2 249.1 676.6 250.4C677.0 251.8 677.3 253.2 677.6 254.5C678.0 255.9 678.2 257.2 678.5 258.5C678.8 259.8 679.0 261.0 679.2 262.3C679.4 263.6 679.6 264.8 679.7 266.1C679.9 267.4 680.0 268.6 680.1 269.9C680.3 271.1 680.4 272.4 680.5 273.6C680.6 274.9 680.7 276.1 680.8 277.4C680.8 278.7 680.9 280.0 681.0 281.3C681.1 282.6 681.2 283.9 681.3 285.2C681.4 286.6 681.5 288.0 681.6 289.3C681.7 290.7 681.8 292.2 681.9 293.6C682.1 295.1 682.2 296.6 682.4 298.1C682.6 299.6 682.8 301.2 683.0 302.7C683.2 304.2 683.5 305.8 683.8 307.2C684.2 308.6 684.5 310.0 685.0 311.3C685.4 312.5 685.9 313.6 686.5 314.5C687.1 315.4 687.8 316.1 688.6 316.6C689.4 317.0 690.2 317.2 691.2 317.1C692.2 317.1 693.3 316.7 694.4 316.2C695.5 315.7 696.7 314.9 697.9 314.1C699.0 313.3 700.2 312.4 701.3 311.4C702.4 310.5 703.5 309.5 704.6 308.5C705.6 307.5 706.7 306.5 707.7 305.5C708.7 304.5 709.7 303.5 710.7 302.5C711.7 301.5 712.7 300.5 713.7 299.6C714.7 298.6 715.7 297.7 716.8 296.9C717.8 296.0 718.9 295.2 720.0 294.5C721.0 293.8 722.2 293.1 723.3 292.6C724.5 292.0 725.7 291.5 726.9 291.2C728.1 290.8 729.4 290.6 730.7 290.4C732.0 290.3 733.3 290.3 734.6 290.4C735.9 290.5 737.2 290.8 738.5 291.1C739.8 291.4 741.1 291.9 742.4 292.3C743.7 292.8 745.0 293.3 746.3 293.8C747.6 294.3 748.9 294.9 750.2 295.3C751.5 295.7 752.7 296.0 754.0 296.2C755.3 296.3 756.6 296.3 757.9 296.2C759.2 296.0 760.5 295.6 761.8 295.3C763.0 294.9 764.3 294.5 765.6 294.1C766.9 293.7 768.2 293.4 769.4 293.1C770.7 292.8 772.0 292.5 773.3 292.3C774.5 292.1 775.8 291.9 777.1 291.8C778.4 291.7 779.6 291.6 780.9 291.5C782.2 291.5 783.5 291.5 784.8 291.5C786.1 291.5 787.3 291.6 788.6 291.8C789.9 291.9 791.2 292.0 792.5 292.3C793.8 292.5 795.1 292.7 796.4 293.0C797.8 293.3 799.1 293.7 800.4 294.0C801.7 294.4 803.0 294.8 804.4 295.3C805.7 295.7 807.0 296.2 808.4 296.7C809.7 297.1 811.1 297.6 812.4 298.1C813.8 298.6 815.1 299.0 816.5 299.5C817.8 299.9 819.1 300.3 820.5 300.7C821.8 301.0 823.2 301.4 824.5 301.6C825.8 301.9 827.2 302.1 828.5 302.3C829.8 302.5 831.2 302.6 832.5 302.7C833.8 302.9 835.1 303.0 836.4 303.1C837.7 303.2 839.0 303.4 840.3 303.5C841.5 303.7 842.8 303.8 844.1 304.0C845.3 304.2 846.6 304.5 847.8 304.8C849.0 305.0 850.3 305.4 851.5 305.8C852.7 306.2 853.9 306.6 855.0 307.1C856.2 307.6 857.4 308.1 858.5 308.8C859.6 309.4 860.7 310.0 861.9 310.8C863.0 311.5 864.1 312.2 865.1 313.0C866.2 313.8 867.3 314.7 868.4 315.5C869.4 316.4 870.5 317.3 871.6 318.2C872.6 319.0 873.7 320.0 874.7 320.9C875.8 321.8 876.8 322.7 877.9 323.6C879.0 324.5 880.0 325.4 881.1 326.2C882.2 327.1 883.2 328.0 884.3 328.8C885.4 329.6 886.5 330.4 887.6 331.1C888.7 331.9 889.8 332.6 891.0 333.2C892.1 333.9 893.3 334.5 894.4 335.1C895.6 335.6 896.8 336.1 898.0 336.6C899.2 337.0 900.4 337.4 901.6 337.8C902.9 338.2 904.1 338.5 905.4 338.8C906.6 339.1 907.9 339.3 909.2 339.5C910.5 339.7 911.8 339.9 913.1 340.0C914.4 340.1 915.8 340.2 917.1 340.3C918.4 340.3 919.8 340.4 921.2 340.4C922.5 340.4 923.9 340.3 925.3 340.3C926.7 340.2 928.8 340.0 929.5 340.0"/>
<path d="M719.0 355.0C719.2 354.4 719.6 352.5 719.9 351.2C720.3 350.0 720.7 348.7 721.2 347.5C721.6 346.2 722.2 345.0 722.7 343.7C723.3 342.4 723.9 341.2 724.5 339.9C725.0 338.7 725.7 337.4 726.3 336.1C726.9 334.9 727.6 333.6 728.2 332.3C728.8 331.1 729.5 329.8 730.1 328.5C730.7 327.2 731.3 326.0 731.8 324.7C732.4 323.4 732.9 322.2 733.4 320.9C733.8 319.6 734.3 318.3 734.7 317.1C735.1 315.8 735.5 314.5 735.8 313.3C736.2 312.0 736.5 310.7 736.9 309.5C737.2 308.2 737.6 306.9 738.0 305.7C738.4 304.4 738.7 303.1 739.2 301.9C739.6 300.6 740.1 299.3 740.6 298.1C741.1 296.8 741.7 295.5 742.3 294.3C743.0 293.0 743.7 291.8 744.5 290.5C745.3 289.3 746.2 288.0 747.1 286.9C748.0 285.8 749.0 284.7 750.1 283.8C751.1 282.9 752.2 282.1 753.2 281.6C754.3 281.1 755.4 280.8 756.5 280.8C757.6 280.8 758.7 281.2 759.7 281.6C760.8 282.1 761.8 282.8 762.8 283.5C763.7 284.3 764.7 285.2 765.6 286.2C766.5 287.1 767.4 288.2 768.2 289.4C769.1 290.5 769.9 291.7 770.7 292.9C771.5 294.2 772.2 295.5 773.0 296.8C773.7 298.1 774.5 299.4 775.2 300.7C775.9 302.0 776.7 303.3 777.4 304.5C778.1 305.8 778.8 307.0 779.5 308.2C780.2 309.4 780.9 310.5 781.6 311.6C782.3 312.7 783.1 313.8 783.8 314.9C784.5 316.0 785.3 317.0 786.0 318.0C786.8 319.1 787.6 320.1 788.4 321.2C789.2 322.2 790.0 323.2 790.8 324.3C791.7 325.3 792.5 326.3 793.4 327.4C794.3 328.4 795.2 329.4 796.0 330.4C796.9 331.5 797.8 332.5 798.8 333.5C799.7 334.6 800.6 335.6 801.5 336.6C802.4 337.6 803.4 338.7 804.3 339.7C805.2 340.7 806.1 341.7 807.0 342.8C807.9 343.8 808.8 344.8 809.7 345.8C810.6 346.9 811.5 347.9 812.4 348.9C813.3 349.9 814.6 351.5 815.0 352.0"/>
<path d="M747.8 344.5C748.1 343.8 749.0 341.5 749.8 340.4C750.6 339.3 751.7 338.4 752.8 337.9C753.9 337.4 755.2 337.2 756.4 337.3C757.6 337.4 758.9 337.9 760.1 338.5C761.3 339.2 762.4 340.1 763.4 341.1C764.4 342.1 765.6 343.9 766.0 344.5"/>
<path d="M669.5 340.0C670.2 339.9 672.6 339.1 674.0 339.2C675.4 339.3 676.8 339.6 678.0 340.5C679.2 341.4 680.9 343.8 681.5 344.5"/>
<path d="M669.7 70.8C670.3 70.5 672.2 69.7 673.3 69.1C674.5 68.4 675.5 67.7 676.5 66.9C677.6 66.1 678.5 65.2 679.4 64.2C680.3 63.3 681.1 62.3 681.9 61.2C682.7 60.2 683.4 59.1 684.1 57.9C684.8 56.8 685.5 55.6 686.1 54.4C686.7 53.2 687.3 51.9 687.9 50.7C688.4 49.4 688.9 48.1 689.4 46.8C690.0 45.6 690.4 44.3 690.9 43.0C691.4 41.6 691.8 40.3 692.3 39.0C692.7 37.7 693.2 36.4 693.6 35.1C694.1 33.8 694.5 32.5 694.9 31.1C695.4 29.8 695.8 28.5 696.3 27.2C696.8 26.0 697.2 24.7 697.7 23.4C698.2 22.1 698.7 20.9 699.3 19.6C699.8 18.4 700.4 17.2 701.0 15.9C701.6 14.7 702.2 13.6 702.9 12.4C703.5 11.2 704.6 9.6 705.0 9.0"/>
<path d="M669.7 86.7C670.1 86.1 671.2 84.5 671.9 83.3C672.6 82.2 673.2 81.0 673.8 79.8C674.4 78.7 675.0 77.5 675.5 76.2C676.1 75.0 676.6 73.8 677.0 72.6C677.5 71.3 677.9 70.1 678.3 68.8C678.7 67.5 679.1 66.3 679.4 65.0C679.8 63.7 680.1 62.4 680.4 61.1C680.7 59.8 680.9 58.5 681.2 57.1C681.5 55.8 681.7 54.5 681.9 53.1C682.1 51.8 682.3 50.5 682.5 49.1C682.7 47.8 682.9 46.4 683.1 45.1C683.3 43.7 683.4 42.4 683.6 41.0C683.8 39.6 683.9 38.3 684.1 36.9C684.2 35.6 684.4 34.2 684.6 32.9C684.7 31.5 684.9 30.1 685.1 28.8C685.2 27.4 685.4 26.1 685.6 24.8C685.8 23.4 686.0 22.1 686.2 20.7C686.4 19.4 686.6 18.1 686.8 16.8C687.1 15.5 687.3 14.2 687.6 12.9C687.9 11.6 688.4 9.6 688.5 9.0"/>
<path d="M669.6 164.6C669.7 163.9 670.2 162.0 670.5 160.6C670.7 159.3 671.0 158.0 671.3 156.6C671.6 155.3 671.8 154.0 672.1 152.7C672.4 151.3 672.6 150.0 672.9 148.7C673.1 147.3 673.4 146.0 673.7 144.7C673.9 143.4 674.2 142.0 674.4 140.7C674.7 139.4 674.9 138.0 675.1 136.7C675.4 135.4 675.6 134.0 675.9 132.7C676.1 131.4 676.3 130.0 676.6 128.7C676.8 127.3 677.0 126.0 677.3 124.7C677.5 123.3 677.7 122.0 678.0 120.7C678.2 119.3 678.4 118.0 678.6 116.7C678.9 115.3 679.1 114.0 679.3 112.7C679.5 111.3 679.8 110.0 680.0 108.6C680.2 107.3 680.4 106.0 680.6 104.6C680.9 103.3 681.1 102.0 681.3 100.6C681.5 99.3 681.8 97.9 682.0 96.6C682.2 95.3 682.4 93.9 682.6 92.6C682.9 91.3 683.1 89.9 683.3 88.6C683.5 87.2 683.8 85.9 684.0 84.6C684.2 83.2 684.4 81.9 684.7 80.6C684.9 79.2 685.1 77.9 685.4 76.6C685.6 75.2 685.8 73.9 686.1 72.6C686.3 71.2 686.5 69.9 686.8 68.5C687.0 67.2 687.3 65.9 687.5 64.5C687.7 63.2 688.0 61.9 688.2 60.6C688.5 59.2 688.7 57.9 689.0 56.6C689.3 55.2 689.5 53.9 689.8 52.6C690.0 51.2 690.3 49.9 690.6 48.6C690.8 47.3 691.1 45.9 691.4 44.6C691.7 43.3 692.0 41.9 692.2 40.6C692.5 39.3 692.8 38.0 693.1 36.6C693.4 35.3 693.7 34.0 694.0 32.7C694.3 31.4 694.6 30.0 694.9 28.7C695.2 27.4 695.5 26.1 695.9 24.8C696.2 23.4 696.5 22.1 696.9 20.8C697.2 19.5 697.5 18.2 697.9 16.9C698.2 15.6 698.6 14.2 698.9 12.9C699.3 11.6 699.8 9.7 700.0 9.0"/>
<path d="M669.6 237.0C670.0 237.6 671.2 239.3 671.9 240.4C672.7 241.6 673.4 242.8 674.0 243.9C674.7 245.1 675.3 246.3 675.9 247.5C676.5 248.8 677.0 250.0 677.5 251.2C678.0 252.5 678.5 253.7 678.9 255.0C679.4 256.2 679.8 257.5 680.2 258.8C680.5 260.0 680.9 261.3 681.2 262.6C681.5 263.9 681.8 265.2 682.1 266.6C682.3 267.9 682.6 269.2 682.8 270.5C683.0 271.8 683.2 273.2 683.4 274.5C683.6 275.9 683.7 277.2 683.9 278.6C684.0 279.9 684.2 281.3 684.3 282.7C684.4 284.0 684.5 285.4 684.6 286.8C684.6 288.1 684.7 289.5 684.8 290.9C684.8 292.3 684.9 293.7 685.0 295.1C685.0 296.4 685.0 297.8 685.1 299.2C685.1 300.6 685.1 302.0 685.2 303.4C685.2 304.8 685.2 306.2 685.3 307.6C685.3 308.9 685.3 310.3 685.4 311.7C685.4 313.1 685.4 314.5 685.5 315.9C685.5 317.3 685.6 318.6 685.6 320.0C685.7 321.4 685.8 322.8 685.9 324.1C685.9 325.5 686.0 326.9 686.1 328.2C686.2 329.6 686.3 331.0 686.5 332.3C686.6 333.7 686.8 335.0 686.9 336.3C687.1 337.7 687.3 339.0 687.5 340.3C687.7 341.6 687.9 343.0 688.2 344.3C688.4 345.6 688.7 346.9 689.0 348.2C689.3 349.5 689.8 351.4 690.0 352.0"/>
<path d="M669.6 240.0C670.0 240.6 671.3 242.2 672.0 243.4C672.8 244.5 673.5 245.7 674.2 246.8C674.9 248.0 675.6 249.2 676.2 250.3C676.8 251.5 677.4 252.7 678.0 253.9C678.5 255.1 679.0 256.3 679.5 257.6C680.1 258.8 680.5 260.0 681.0 261.3C681.4 262.5 681.9 263.8 682.3 265.0C682.7 266.3 683.1 267.5 683.4 268.8C683.8 270.1 684.2 271.4 684.5 272.6C684.9 273.9 685.2 275.2 685.6 276.5C685.9 277.8 686.2 279.1 686.5 280.4C686.8 281.7 687.2 283.0 687.5 284.3C687.8 285.7 688.1 287.0 688.4 288.3C688.7 289.6 689.0 290.9 689.4 292.3C689.7 293.6 690.0 294.9 690.3 296.3C690.6 297.6 691.0 298.9 691.3 300.2C691.6 301.6 692.0 302.9 692.3 304.2C692.6 305.6 693.0 306.9 693.3 308.2C693.7 309.6 694.0 310.9 694.4 312.2C694.8 313.6 695.1 314.9 695.5 316.2C695.9 317.6 696.2 318.9 696.6 320.2C697.0 321.5 697.4 322.9 697.7 324.2C698.1 325.5 698.5 326.8 698.9 328.1C699.3 329.4 699.7 330.7 700.1 332.0C700.5 333.3 700.9 334.6 701.3 335.9C701.7 337.2 702.0 338.5 702.4 339.7C702.8 341.0 703.2 342.3 703.6 343.5C704.0 344.8 704.4 346.0 704.8 347.3C705.2 348.5 705.8 350.4 706.0 351.0"/>
<path d="M669.6 260.5C670.6 259.5 673.9 256.8 675.5 254.5C677.1 252.2 678.0 249.2 679.0 247.0C680.0 244.8 681.1 242.0 681.5 241.0"/>
<path d="M882.0 9.0C882.4 9.5 883.4 11.1 884.1 12.2C884.8 13.3 885.5 14.4 886.1 15.6C886.7 16.7 887.4 17.9 888.0 19.1C888.6 20.3 889.2 21.5 889.8 22.7C890.4 23.9 891.0 25.2 891.6 26.4C892.2 27.7 892.8 28.9 893.3 30.2C893.9 31.5 894.5 32.7 895.1 34.0C895.7 35.3 896.3 36.6 896.9 37.8C897.5 39.1 898.1 40.4 898.7 41.6C899.3 42.9 900.0 44.1 900.6 45.3C901.3 46.5 901.9 47.8 902.6 48.9C903.3 50.1 904.0 51.3 904.7 52.4C905.5 53.6 906.2 54.7 907.0 55.8C907.8 56.9 908.6 57.9 909.5 59.0C910.3 60.0 911.2 61.0 912.1 61.9C913.0 62.8 914.0 63.7 915.0 64.5C916.0 65.4 917.0 66.2 918.1 66.9C919.2 67.6 920.3 68.2 921.5 68.8C922.7 69.4 923.9 69.9 925.2 70.3C926.5 70.8 928.5 71.2 929.2 71.4"/>
<path d="M900.8 9.0C901.0 9.6 901.7 11.6 902.1 12.8C902.5 14.1 903.0 15.4 903.4 16.8C903.8 18.1 904.2 19.4 904.6 20.7C905.0 22.0 905.4 23.4 905.8 24.7C906.1 26.1 906.5 27.4 906.9 28.8C907.3 30.1 907.7 31.5 908.0 32.8C908.4 34.2 908.8 35.6 909.2 36.9C909.5 38.3 909.9 39.6 910.3 41.0C910.6 42.4 911.0 43.7 911.4 45.1C911.8 46.5 912.2 47.8 912.5 49.2C912.9 50.5 913.3 51.9 913.7 53.2C914.1 54.5 914.5 55.9 914.9 57.2C915.3 58.5 915.7 59.9 916.2 61.2C916.6 62.5 917.0 63.8 917.5 65.1C918.0 66.3 918.5 67.6 919.0 68.9C919.5 70.2 920.0 71.4 920.6 72.6C921.2 73.9 921.8 75.1 922.4 76.3C923.1 77.5 923.7 78.7 924.4 79.9C925.2 81.1 925.9 82.2 926.7 83.4C927.5 84.5 928.8 86.1 929.2 86.7"/>
<path d="M900.3 9.0C900.4 9.7 900.7 11.7 901.0 13.0C901.2 14.4 901.4 15.7 901.6 17.0C901.8 18.4 902.0 19.7 902.2 21.1C902.4 22.4 902.6 23.7 902.8 25.1C903.0 26.4 903.2 27.8 903.4 29.1C903.6 30.5 903.8 31.8 904.0 33.2C904.2 34.5 904.4 35.8 904.6 37.2C904.8 38.5 905.0 39.9 905.2 41.2C905.4 42.6 905.6 43.9 905.8 45.3C906.0 46.6 906.2 48.0 906.4 49.3C906.5 50.7 906.7 52.0 906.9 53.3C907.1 54.7 907.3 56.0 907.5 57.4C907.7 58.7 907.9 60.1 908.1 61.4C908.3 62.8 908.5 64.1 908.7 65.5C908.9 66.8 909.1 68.2 909.3 69.5C909.5 70.9 909.7 72.2 909.9 73.5C910.1 74.9 910.3 76.2 910.5 77.6C910.7 78.9 910.9 80.3 911.1 81.6C911.3 83.0 911.5 84.3 911.7 85.7C911.9 87.0 912.2 88.3 912.4 89.7C912.6 91.0 912.8 92.4 913.0 93.7C913.3 95.0 913.5 96.4 913.7 97.7C913.9 99.1 914.2 100.4 914.4 101.7C914.6 103.1 914.9 104.4 915.1 105.8C915.4 107.1 915.6 108.4 915.9 109.8C916.1 111.1 916.4 112.4 916.6 113.8C916.9 115.1 917.1 116.4 917.4 117.8C917.7 119.1 917.9 120.4 918.2 121.8C918.5 123.1 918.7 124.4 919.0 125.8C919.3 127.1 919.6 128.4 919.9 129.7C920.2 131.1 920.5 132.4 920.8 133.7C921.1 135.0 921.4 136.4 921.7 137.7C922.0 139.0 922.3 140.3 922.7 141.6C923.0 143.0 923.3 144.3 923.7 145.6C924.0 146.9 924.3 148.2 924.7 149.5C925.0 150.8 925.4 152.2 925.8 153.5C926.1 154.8 926.5 156.1 926.9 157.4C927.2 158.7 927.6 160.0 928.0 161.3C928.4 162.6 929.0 164.5 929.2 165.2"/>
<path d="M884.0 352.0C884.2 351.3 884.8 349.4 885.3 348.1C885.7 346.7 886.1 345.4 886.5 344.1C886.9 342.8 887.3 341.5 887.8 340.2C888.2 338.9 888.6 337.6 889.0 336.3C889.4 334.9 889.8 333.6 890.2 332.3C890.6 331.0 891.0 329.7 891.4 328.4C891.8 327.1 892.2 325.8 892.7 324.5C893.1 323.2 893.5 321.9 893.9 320.6C894.3 319.3 894.7 318.0 895.1 316.7C895.5 315.4 895.9 314.1 896.3 312.8C896.7 311.5 897.1 310.2 897.5 308.9C897.9 307.6 898.3 306.3 898.7 305.0C899.1 303.7 899.5 302.4 899.9 301.1C900.3 299.8 900.7 298.5 901.1 297.2C901.6 296.0 902.0 294.7 902.4 293.4C902.8 292.1 903.2 290.8 903.6 289.5C904.0 288.2 904.4 286.9 904.9 285.6C905.3 284.3 905.7 283.0 906.1 281.7C906.5 280.4 907.0 279.1 907.4 277.8C907.8 276.5 908.3 275.2 908.7 273.9C909.1 272.7 909.6 271.4 910.0 270.1C910.4 268.8 910.9 267.5 911.3 266.2C911.8 264.9 912.2 263.6 912.7 262.3C913.1 261.0 913.6 259.7 914.0 258.4C914.5 257.1 914.9 255.8 915.4 254.5C915.9 253.2 916.3 251.9 916.8 250.6C917.2 249.3 917.7 248.0 918.1 246.7C918.6 245.4 919.1 244.1 919.5 242.8C919.9 241.5 920.4 240.2 920.8 238.9C921.2 237.6 921.7 236.3 922.1 235.0C922.5 233.7 922.9 232.4 923.3 231.1C923.7 229.8 924.1 228.5 924.4 227.2C924.8 225.8 925.1 224.5 925.5 223.2C925.8 221.9 926.1 220.6 926.4 219.3C926.8 218.0 927.1 216.7 927.4 215.3C927.7 214.0 928.2 212.1 928.4 211.4"/>
<path d="M895.5 352.0C895.7 351.3 896.1 349.4 896.4 348.1C896.7 346.8 897.0 345.5 897.3 344.2C897.6 342.9 897.9 341.6 898.2 340.2C898.5 338.9 898.8 337.6 899.1 336.3C899.4 335.0 899.7 333.6 900.0 332.3C900.3 331.0 900.6 329.6 900.9 328.3C901.1 327.0 901.4 325.7 901.7 324.3C902.0 323.0 902.3 321.7 902.6 320.3C902.8 319.0 903.1 317.6 903.4 316.3C903.7 315.0 904.0 313.6 904.2 312.3C904.5 310.9 904.8 309.6 905.1 308.3C905.4 306.9 905.7 305.6 905.9 304.2C906.2 302.9 906.5 301.5 906.8 300.2C907.1 298.9 907.4 297.5 907.7 296.2C907.9 294.8 908.2 293.5 908.5 292.1C908.8 290.8 909.1 289.5 909.4 288.1C909.7 286.8 910.0 285.5 910.3 284.1C910.6 282.8 910.9 281.4 911.2 280.1C911.5 278.8 911.8 277.4 912.1 276.1C912.5 274.8 912.8 273.5 913.1 272.1C913.4 270.8 913.7 269.5 914.1 268.2C914.4 266.8 914.7 265.5 915.1 264.2C915.4 262.9 915.7 261.6 916.1 260.3C916.4 259.0 916.8 257.7 917.2 256.4C917.5 255.1 917.9 253.8 918.4 252.6C918.8 251.3 919.3 250.1 919.8 248.9C920.4 247.7 920.9 246.6 921.6 245.5C922.2 244.3 922.9 243.3 923.7 242.2C924.5 241.2 925.4 240.3 926.3 239.3C927.3 238.4 929.0 237.2 929.5 236.8"/>
<path d="M898.0 352.0C898.1 351.3 898.6 349.4 898.9 348.1C899.2 346.8 899.5 345.5 899.8 344.2C900.0 342.8 900.3 341.5 900.6 340.2C900.9 338.9 901.2 337.5 901.4 336.2C901.7 334.9 902.0 333.5 902.2 332.2C902.5 330.9 902.8 329.5 903.0 328.2C903.3 326.8 903.5 325.5 903.8 324.2C904.1 322.8 904.3 321.5 904.6 320.1C904.8 318.8 905.1 317.4 905.3 316.0C905.6 314.7 905.9 313.3 906.1 312.0C906.4 310.6 906.6 309.3 906.9 307.9C907.1 306.6 907.4 305.2 907.7 303.8C907.9 302.5 908.2 301.1 908.5 299.8C908.7 298.4 909.0 297.1 909.3 295.7C909.5 294.4 909.8 293.0 910.1 291.7C910.4 290.3 910.7 289.0 911.0 287.6C911.2 286.3 911.5 284.9 911.8 283.6C912.1 282.3 912.4 280.9 912.7 279.6C913.1 278.3 913.4 276.9 913.7 275.6C914.0 274.3 914.3 272.9 914.7 271.6C915.0 270.3 915.3 269.0 915.7 267.7C916.0 266.4 916.4 265.1 916.8 263.8C917.1 262.5 917.5 261.2 917.9 259.9C918.3 258.6 918.6 257.3 919.1 256.0C919.5 254.8 920.0 253.5 920.5 252.3C921.0 251.1 921.5 249.9 922.1 248.8C922.7 247.6 923.4 246.5 924.1 245.4C924.9 244.3 925.7 243.3 926.5 242.3C927.4 241.3 929.0 240.0 929.5 239.5"/>
</g>
<rect x="687.7" y="153.2" width="28.7" height="33.4" rx="4.5" fill="none" stroke="#e2711d" stroke-width="1.8" stroke-dasharray="7 2.3"/>
<rect x="891.3" y="204.9" width="28.5" height="33.5" rx="4.5" fill="none" stroke="#e2711d" stroke-width="1.8" stroke-dasharray="7 2.3"/>
<path d="M870.5 173.8L890.8 200.5M882.2 198.1L890.8 200.5L890 191.9" fill="none" stroke="#ea8a45" stroke-width="1.1"/>
<path d="M669.6 46.2h4.8M669.6 112.6h4.8M669.6 179.0h4.8M669.6 245.5h4.8M669.6 312.0h4.8" stroke="#444" stroke-width="1.2" fill="none"/>
<rect x="669.6" y="14.2" width="259.8" height="329.9" fill="none" stroke="#444" stroke-width="1.8"/>
<path d="M669.9 52V87M669.9 112V165M669.9 209V263M929.2 165V209" stroke="#3434f8" stroke-width="1.3" fill="none"/>
<text x="652.9" y="58.2" font-size="36.0" text-anchor="end" stroke="#fff" stroke-width="1.45">2</text>
<text x="652.9" y="191.8" font-size="36.0" text-anchor="end" stroke="#fff" stroke-width="1.45">0</text>
<text x="652.9" y="324.0" font-size="36.0" text-anchor="end" stroke="#fff" stroke-width="1.45">2</text>
<text x="621.0" y="322.4" font-size="36.0" textLength="13.4" lengthAdjust="spacingAndGlyphs" stroke="#fff" stroke-width="1.35">-</text>
<text transform="translate(604.2 193.7) rotate(-90)" font-size="45.5" text-anchor="middle" textLength="203.0" lengthAdjust="spacingAndGlyphs" stroke="#fff" stroke-width="1.80">Energy (eV)</text>
<text x="533.0" y="38.5" font-size="50.0" textLength="52.0" lengthAdjust="spacingAndGlyphs" stroke="#fff" stroke-width="2.00">(c)</text>
<text x="755.6" y="383.0" font-size="36.0" text-anchor="middle" stroke="#fff" stroke-width="1.45">M</text>
<text x="845.4" y="383.0" font-size="36.0" text-anchor="middle" stroke="#fff" stroke-width="1.45">X</text>
<text x="656.4" y="383.0" font-size="36.0" textLength="21.4" lengthAdjust="spacingAndGlyphs" stroke="#fff" stroke-width="1.45">Γ</text>
<text x="918.2" y="383.0" font-size="36.0" textLength="21.4" lengthAdjust="spacingAndGlyphs" stroke="#fff" stroke-width="1.45">Γ</text>
</g>
<g id="panel-b">
<defs>
<clipPath id="clipB"><polygon points="280.4,415.6 419.4,484.3 419.4,651.0 280.4,720.5 141.4,651.0 141.4,484.3"/></clipPath>
<radialGradient id="bRedS" gradientUnits="objectBoundingBox" cx=".5" cy=".5" r=".5"><stop offset="0" stop-color="#e00026"/><stop offset=".1" stop-color="#d60032"/><stop offset=".25" stop-color="#b8005a" stop-opacity=".95"/><stop offset=".42" stop-color="#8a008c" stop-opacity=".8"/><stop offset=".6" stop-color="#5c00b4" stop-opacity=".55"/><stop offset=".8" stop-color="#3a00d0" stop-opacity=".25"/><stop offset="1" stop-color="#2000e0" stop-opacity="0"/></radialGradient>
<radialGradient id="bRedT" gradientUnits="objectBoundingBox" cx=".5" cy=".5" r=".5"><stop offset="0" stop-color="#d20034"/><stop offset=".15" stop-color="#c00048" stop-opacity=".95"/><stop offset=".35" stop-color="#90007e" stop-opacity=".8"/><stop offset=".6" stop-color="#5800b4" stop-opacity=".5"/><stop offset=".8" stop-color="#3a00d0" stop-opacity=".22"/><stop offset="1" stop-color="#2000e0" stop-opacity="0"/></radialGradient>
<radialGradient id="bRing" gradientUnits="userSpaceOnUse" cx="280.6" cy="568.0" r="104"><stop offset="0" stop-color="#0c00f4"/><stop offset=".3" stop-color="#1a00e6"/><stop offset=".62" stop-color="#4a00b8"/><stop offset=".78" stop-color="#4c00b6"/><stop offset=".93" stop-color="#1400ee"/><stop offset="1" stop-color="#0800fa"/></radialGradient>
<radialGradient id="bCore" gradientUnits="objectBoundingBox" cx=".5" cy=".5" r=".5"><stop offset="0" stop-color="#1002f0"/><stop offset=".25" stop-color="#1002f0" stop-opacity=".93"/><stop offset=".45" stop-color="#1002f0" stop-opacity=".74"/><stop offset=".62" stop-color="#1002f0" stop-opacity=".5"/><stop offset=".78" stop-color="#1002f0" stop-opacity=".24"/><stop offset=".9" stop-color="#1002f0" stop-opacity=".08"/><stop offset="1" stop-color="#1002f0" stop-opacity="0"/></radialGradient>
<radialGradient id="bDot" gradientUnits="userSpaceOnUse" cx="281.5" cy="567.0" r="13.5"><stop offset="0" stop-color="#fff"/><stop offset=".35" stop-color="#fff" stop-opacity=".95"/><stop offset=".7" stop-color="#b0b4ff" stop-opacity=".55"/><stop offset="1" stop-color="#3020ff" stop-opacity="0"/></radialGradient>
<filter id="bBlur" x="-10%" y="-10%" width="120%" height="120%"><feGaussianBlur stdDeviation="1.4"/></filter>
<filter id="bBlur3" x="-10%" y="-10%" width="120%" height="120%"><feGaussianBlur stdDeviation="0.7"/></filter>
<filter id="bBlur4" x="-20%" y="-20%" width="140%" height="140%"><feGaussianBlur stdDeviation="5.5"/></filter>
<filter id="bBlur5" x="-60%" y="-60%" width="220%" height="220%"><feGaussianBlur stdDeviation="17"/></filter>
<filter id="bBlur2" x="-10%" y="-10%" width="120%" height="120%"><feGaussianBlur stdDeviation="7"/></filter>
</defs>
<g clip-path="url(#clipB)">
<rect x="135" y="410" width="292" height="316" fill="#1604ea"/>
<path d="M281.8 464.5C287.2 464.5 292.2 463.5 297.9 462.8C303.6 462.1 310.9 460.8 316.1 460.4C321.3 460.0 325.3 460.0 328.9 460.4C332.6 460.8 335.3 461.5 338.0 462.8C340.7 464.1 343.2 466.0 345.3 468.3C347.4 470.6 349.0 473.3 350.8 476.5C352.6 479.7 354.5 483.2 356.3 487.5C358.1 491.8 359.8 497.2 361.8 502.1C363.8 507.0 365.7 512.2 368.1 516.7C370.5 521.2 373.5 525.3 376.4 529.4C379.3 533.5 383.3 538.1 385.5 541.3C387.7 544.5 388.3 546.3 389.5 548.5C390.7 550.7 391.7 552.8 392.6 554.7C393.5 556.7 394.3 558.7 394.9 560.2C395.5 561.8 395.8 562.9 396.1 564.0C396.4 565.1 396.5 566.0 396.5 567.0C396.5 568.0 396.4 568.9 396.1 570.0C395.8 571.1 395.5 572.2 394.9 573.8C394.3 575.3 393.5 577.3 392.6 579.3C391.7 581.2 390.7 583.3 389.5 585.5C388.3 587.7 387.7 589.5 385.5 592.7C383.3 595.9 379.3 600.5 376.4 604.6C373.5 608.7 370.5 612.8 368.1 617.3C365.7 621.8 363.8 627.0 361.8 631.9C359.8 636.8 358.1 642.2 356.3 646.5C354.5 650.8 352.6 654.3 350.8 657.5C349.0 660.7 347.4 663.4 345.3 665.7C343.2 668.0 340.7 669.9 338.0 671.2C335.3 672.5 332.6 673.2 328.9 673.6C325.3 674.0 321.3 674.0 316.1 673.6C310.9 673.2 303.6 671.9 297.9 671.2C292.2 670.5 287.2 669.5 281.8 669.5C276.4 669.5 271.4 670.5 265.7 671.2C260.0 671.9 252.7 673.2 247.5 673.6C242.3 674.0 238.4 674.0 234.7 673.6C231.1 673.2 228.3 672.5 225.6 671.2C222.9 669.9 220.4 668.0 218.3 665.7C216.2 663.4 214.6 660.7 212.8 657.5C211.0 654.3 209.1 650.8 207.3 646.5C205.5 642.2 203.8 636.8 201.8 631.9C199.8 627.0 197.9 621.8 195.5 617.3C193.1 612.8 190.1 608.7 187.2 604.6C184.3 600.5 180.3 595.9 178.1 592.7C175.9 589.5 175.3 587.7 174.1 585.5C172.9 583.3 171.9 581.2 171.0 579.3C170.1 577.3 169.3 575.3 168.7 573.8C168.1 572.2 167.8 571.1 167.5 570.0C167.2 568.9 167.1 568.0 167.1 567.0C167.1 566.0 167.2 565.1 167.5 564.0C167.8 562.9 168.1 561.8 168.7 560.2C169.3 558.7 170.1 556.7 171.0 554.7C171.9 552.8 172.9 550.7 174.1 548.5C175.3 546.3 175.9 544.5 178.1 541.3C180.3 538.1 184.3 533.5 187.2 529.4C190.1 525.3 193.1 521.2 195.5 516.7C197.9 512.2 199.8 507.0 201.8 502.1C203.8 497.2 205.5 491.8 207.3 487.5C209.1 483.2 211.0 479.7 212.8 476.5C214.6 473.3 216.2 470.6 218.3 468.3C220.4 466.0 222.9 464.1 225.6 462.8C228.3 461.5 231.1 460.8 234.7 460.4C238.4 460.0 242.3 460.0 247.5 460.4C252.7 460.8 260.0 462.1 265.7 462.8C271.4 463.5 276.4 464.5 281.8 464.5Z" fill="#1402ec"/>
<path d="M281.8 464.5C287.2 464.5 292.2 463.5 297.9 462.8C303.6 462.1 310.9 460.8 316.1 460.4C321.3 460.0 325.3 460.0 328.9 460.4C332.6 460.8 335.3 461.5 338.0 462.8C340.7 464.1 343.2 466.0 345.3 468.3C347.4 470.6 349.0 473.3 350.8 476.5C352.6 479.7 354.5 483.2 356.3 487.5C358.1 491.8 359.8 497.2 361.8 502.1C363.8 507.0 365.7 512.2 368.1 516.7C370.5 521.2 373.5 525.3 376.4 529.4C379.3 533.5 383.3 538.1 385.5 541.3C387.7 544.5 388.3 546.3 389.5 548.5C390.7 550.7 391.7 552.8 392.6 554.7C393.5 556.7 394.3 558.7 394.9 560.2C395.5 561.8 395.8 562.9 396.1 564.0C396.4 565.1 396.5 566.0 396.5 567.0C396.5 568.0 396.4 568.9 396.1 570.0C395.8 571.1 395.5 572.2 394.9 573.8C394.3 575.3 393.5 577.3 392.6 579.3C391.7 581.2 390.7 583.3 389.5 585.5C388.3 587.7 387.7 589.5 385.5 592.7C383.3 595.9 379.3 600.5 376.4 604.6C373.5 608.7 370.5 612.8 368.1 617.3C365.7 621.8 363.8 627.0 361.8 631.9C359.8 636.8 358.1 642.2 356.3 646.5C354.5 650.8 352.6 654.3 350.8 657.5C349.0 660.7 347.4 663.4 345.3 665.7C343.2 668.0 340.7 669.9 338.0 671.2C335.3 672.5 332.6 673.2 328.9 673.6C325.3 674.0 321.3 674.0 316.1 673.6C310.9 673.2 303.6 671.9 297.9 671.2C292.2 670.5 287.2 669.5 281.8 669.5C276.4 669.5 271.4 670.5 265.7 671.2C260.0 671.9 252.7 673.2 247.5 673.6C242.3 674.0 238.4 674.0 234.7 673.6C231.1 673.2 228.3 672.5 225.6 671.2C222.9 669.9 220.4 668.0 218.3 665.7C216.2 663.4 214.6 660.7 212.8 657.5C211.0 654.3 209.1 650.8 207.3 646.5C205.5 642.2 203.8 636.8 201.8 631.9C199.8 627.0 197.9 621.8 195.5 617.3C193.1 612.8 190.1 608.7 187.2 604.6C184.3 600.5 180.3 595.9 178.1 592.7C175.9 589.5 175.3 587.7 174.1 585.5C172.9 583.3 171.9 581.2 171.0 579.3C170.1 577.3 169.3 575.3 168.7 573.8C168.1 572.2 167.8 571.1 167.5 570.0C167.2 568.9 167.1 568.0 167.1 567.0C167.1 566.0 167.2 565.1 167.5 564.0C167.8 562.9 168.1 561.8 168.7 560.2C169.3 558.7 170.1 556.7 171.0 554.7C171.9 552.8 172.9 550.7 174.1 548.5C175.3 546.3 175.9 544.5 178.1 541.3C180.3 538.1 184.3 533.5 187.2 529.4C190.1 525.3 193.1 521.2 195.5 516.7C197.9 512.2 199.8 507.0 201.8 502.1C203.8 497.2 205.5 491.8 207.3 487.5C209.1 483.2 211.0 479.7 212.8 476.5C214.6 473.3 216.2 470.6 218.3 468.3C220.4 466.0 222.9 464.1 225.6 462.8C228.3 461.5 231.1 460.8 234.7 460.4C238.4 460.0 242.3 460.0 247.5 460.4C252.7 460.8 260.0 462.1 265.7 462.8C271.4 463.5 276.4 464.5 281.8 464.5Z" fill="#6400a6" filter="url(#bBlur4)" opacity=".82" transform="translate(281.8 567.0) scale(.85) translate(-281.8 -567.0)"/>
<circle cx="281.8" cy="567.0" r="86" fill="url(#bCore)"/>
<path d="M281.8 464.5C287.2 464.5 292.2 463.5 297.9 462.8C303.6 462.1 310.9 460.8 316.1 460.4C321.3 460.0 325.3 460.0 328.9 460.4C332.6 460.8 335.3 461.5 338.0 462.8C340.7 464.1 343.2 466.0 345.3 468.3C347.4 470.6 349.0 473.3 350.8 476.5C352.6 479.7 354.5 483.2 356.3 487.5C358.1 491.8 359.8 497.2 361.8 502.1C363.8 507.0 365.7 512.2 368.1 516.7C370.5 521.2 373.5 525.3 376.4 529.4C379.3 533.5 383.3 538.1 385.5 541.3C387.7 544.5 388.3 546.3 389.5 548.5C390.7 550.7 391.7 552.8 392.6 554.7C393.5 556.7 394.3 558.7 394.9 560.2C395.5 561.8 395.8 562.9 396.1 564.0C396.4 565.1 396.5 566.0 396.5 567.0C396.5 568.0 396.4 568.9 396.1 570.0C395.8 571.1 395.5 572.2 394.9 573.8C394.3 575.3 393.5 577.3 392.6 579.3C391.7 581.2 390.7 583.3 389.5 585.5C388.3 587.7 387.7 589.5 385.5 592.7C383.3 595.9 379.3 600.5 376.4 604.6C373.5 608.7 370.5 612.8 368.1 617.3C365.7 621.8 363.8 627.0 361.8 631.9C359.8 636.8 358.1 642.2 356.3 646.5C354.5 650.8 352.6 654.3 350.8 657.5C349.0 660.7 347.4 663.4 345.3 665.7C343.2 668.0 340.7 669.9 338.0 671.2C335.3 672.5 332.6 673.2 328.9 673.6C325.3 674.0 321.3 674.0 316.1 673.6C310.9 673.2 303.6 671.9 297.9 671.2C292.2 670.5 287.2 669.5 281.8 669.5C276.4 669.5 271.4 670.5 265.7 671.2C260.0 671.9 252.7 673.2 247.5 673.6C242.3 674.0 238.4 674.0 234.7 673.6C231.1 673.2 228.3 672.5 225.6 671.2C222.9 669.9 220.4 668.0 218.3 665.7C216.2 663.4 214.6 660.7 212.8 657.5C211.0 654.3 209.1 650.8 207.3 646.5C205.5 642.2 203.8 636.8 201.8 631.9C199.8 627.0 197.9 621.8 195.5 617.3C193.1 612.8 190.1 608.7 187.2 604.6C184.3 600.5 180.3 595.9 178.1 592.7C175.9 589.5 175.3 587.7 174.1 585.5C172.9 583.3 171.9 581.2 171.0 579.3C170.1 577.3 169.3 575.3 168.7 573.8C168.1 572.2 167.8 571.1 167.5 570.0C167.2 568.9 167.1 568.0 167.1 567.0C167.1 566.0 167.2 565.1 167.5 564.0C167.8 562.9 168.1 561.8 168.7 560.2C169.3 558.7 170.1 556.7 171.0 554.7C171.9 552.8 172.9 550.7 174.1 548.5C175.3 546.3 175.9 544.5 178.1 541.3C180.3 538.1 184.3 533.5 187.2 529.4C190.1 525.3 193.1 521.2 195.5 516.7C197.9 512.2 199.8 507.0 201.8 502.1C203.8 497.2 205.5 491.8 207.3 487.5C209.1 483.2 211.0 479.7 212.8 476.5C214.6 473.3 216.2 470.6 218.3 468.3C220.4 466.0 222.9 464.1 225.6 462.8C228.3 461.5 231.1 460.8 234.7 460.4C238.4 460.0 242.3 460.0 247.5 460.4C252.7 460.8 260.0 462.1 265.7 462.8C271.4 463.5 276.4 464.5 281.8 464.5Z" fill="none" stroke="#0a00fc" stroke-width="11" filter="url(#bBlur4)" opacity=".9"/>
<ellipse cx="421.4" cy="484.3" rx="78" ry="100" fill="url(#bRedS)"/>
<ellipse cx="421.4" cy="651.0" rx="78" ry="100" fill="url(#bRedS)"/>
<ellipse cx="143.4" cy="651.0" rx="78" ry="100" fill="url(#bRedS)"/>
<ellipse cx="143.4" cy="484.3" rx="78" ry="100" fill="url(#bRedS)"/>
<ellipse cx="280.4" cy="413.6" rx="80" ry="62" fill="url(#bRedT)"/>
<ellipse cx="280.4" cy="722.5" rx="80" ry="62" fill="url(#bRedT)"/>
<path d="M281.8 464.5C287.2 464.5 292.2 463.5 297.9 462.8C303.6 462.1 310.9 460.8 316.1 460.4C321.3 460.0 325.3 460.0 328.9 460.4C332.6 460.8 335.3 461.5 338.0 462.8C340.7 464.1 343.2 466.0 345.3 468.3C347.4 470.6 349.0 473.3 350.8 476.5C352.6 479.7 354.5 483.2 356.3 487.5C358.1 491.8 359.8 497.2 361.8 502.1C363.8 507.0 365.7 512.2 368.1 516.7C370.5 521.2 373.5 525.3 376.4 529.4C379.3 533.5 383.3 538.1 385.5 541.3C387.7 544.5 388.3 546.3 389.5 548.5C390.7 550.7 391.7 552.8 392.6 554.7C393.5 556.7 394.3 558.7 394.9 560.2C395.5 561.8 395.8 562.9 396.1 564.0C396.4 565.1 396.5 566.0 396.5 567.0C396.5 568.0 396.4 568.9 396.1 570.0C395.8 571.1 395.5 572.2 394.9 573.8C394.3 575.3 393.5 577.3 392.6 579.3C391.7 581.2 390.7 583.3 389.5 585.5C388.3 587.7 387.7 589.5 385.5 592.7C383.3 595.9 379.3 600.5 376.4 604.6C373.5 608.7 370.5 612.8 368.1 617.3C365.7 621.8 363.8 627.0 361.8 631.9C359.8 636.8 358.1 642.2 356.3 646.5C354.5 650.8 352.6 654.3 350.8 657.5C349.0 660.7 347.4 663.4 345.3 665.7C343.2 668.0 340.7 669.9 338.0 671.2C335.3 672.5 332.6 673.2 328.9 673.6C325.3 674.0 321.3 674.0 316.1 673.6C310.9 673.2 303.6 671.9 297.9 671.2C292.2 670.5 287.2 669.5 281.8 669.5C276.4 669.5 271.4 670.5 265.7 671.2C260.0 671.9 252.7 673.2 247.5 673.6C242.3 674.0 238.4 674.0 234.7 673.6C231.1 673.2 228.3 672.5 225.6 671.2C222.9 669.9 220.4 668.0 218.3 665.7C216.2 663.4 214.6 660.7 212.8 657.5C211.0 654.3 209.1 650.8 207.3 646.5C205.5 642.2 203.8 636.8 201.8 631.9C199.8 627.0 197.9 621.8 195.5 617.3C193.1 612.8 190.1 608.7 187.2 604.6C184.3 600.5 180.3 595.9 178.1 592.7C175.9 589.5 175.3 587.7 174.1 585.5C172.9 583.3 171.9 581.2 171.0 579.3C170.1 577.3 169.3 575.3 168.7 573.8C168.1 572.2 167.8 571.1 167.5 570.0C167.2 568.9 167.1 568.0 167.1 567.0C167.1 566.0 167.2 565.1 167.5 564.0C167.8 562.9 168.1 561.8 168.7 560.2C169.3 558.7 170.1 556.7 171.0 554.7C171.9 552.8 172.9 550.7 174.1 548.5C175.3 546.3 175.9 544.5 178.1 541.3C180.3 538.1 184.3 533.5 187.2 529.4C190.1 525.3 193.1 521.2 195.5 516.7C197.9 512.2 199.8 507.0 201.8 502.1C203.8 497.2 205.5 491.8 207.3 487.5C209.1 483.2 211.0 479.7 212.8 476.5C214.6 473.3 216.2 470.6 218.3 468.3C220.4 466.0 222.9 464.1 225.6 462.8C228.3 461.5 231.1 460.8 234.7 460.4C238.4 460.0 242.3 460.0 247.5 460.4C252.7 460.8 260.0 462.1 265.7 462.8C271.4 463.5 276.4 464.5 281.8 464.5Z" fill="none" stroke="#dce0ff" stroke-width="4.2" filter="url(#bBlur)"/>
<circle cx="281.5" cy="567.0" r="13.5" fill="url(#bDot)"/>
</g>
<text x="262.4" y="514.9" font-size="40.0" textLength="17.8" lengthAdjust="spacingAndGlyphs" style="fill:#fff" stroke="#3004d2" stroke-width="1.9">L</text>
<clipPath id="one4"><path d="M278.6 474.9H299.1V510.3H290.9V516.9H287.8V510.3H278.6Z"/></clipPath>
<text x="280.6" y="514.9" font-size="40.0" clip-path="url(#one4)" textLength="16.5" lengthAdjust="spacingAndGlyphs" style="fill:#fff" stroke="#3004d2" stroke-width="1.90">1</text>
<defs><linearGradient id="bBar" x1="0" y1="0" x2="0" y2="1"><stop offset="0" stop-color="#ee1c24"/><stop offset=".12" stop-color="#e61e2e"/><stop offset=".3" stop-color="#c41e58"/><stop offset=".45" stop-color="#9a2280"/><stop offset=".6" stop-color="#6c2c98"/><stop offset=".75" stop-color="#4a42a4"/><stop offset=".88" stop-color="#3a58b2"/><stop offset=".95" stop-color="#3c62ba"/><stop offset=".975" stop-color="#aab4e0"/><stop offset="1" stop-color="#fff"/></linearGradient></defs>
<rect x="451.3" y="472.2" width="17.8" height="204.6" fill="url(#bBar)"/>
<path d="M451.3 472.2V676.8H469.1V472.2" fill="none" stroke="#4a4a4a" stroke-width="0.9"/>
<path d="M462.3 501.3h6.8M462.3 530.4h6.8M462.3 559.5h6.8M462.3 588.6h6.8M462.3 617.7h6.8M462.3 646.8h6.8" stroke="#2a2a2a" stroke-width="0.9" fill="none"/>
<text x="431.3" y="451.8" font-size="31.5" textLength="58.0" lengthAdjust="spacingAndGlyphs" stroke="#fff" stroke-width="1.10">(eV)</text>
<text x="476.5" y="495.0" font-size="30.0" textLength="15.5" lengthAdjust="spacingAndGlyphs" stroke="#fff" stroke-width="1.10">3</text>
<text x="476.5" y="681.8" font-size="32.0" textLength="16.0" lengthAdjust="spacingAndGlyphs" stroke="#fff" stroke-width="1.10">0</text>
<text x="2.0" y="434.0" font-size="50.0" textLength="56.0" lengthAdjust="spacingAndGlyphs" stroke="#fff" stroke-width="2.00">(b)</text>
</g>
<g id="panel-d">
<defs>
<clipPath id="clipD"><rect x="672.3" y="447.6" width="256.7" height="228.6"/></clipPath>
<filter id="dBlurA" x="-20%" y="-20%" width="140%" height="140%"><feGaussianBlur stdDeviation="9.5"/></filter>
<filter id="dBlurB" x="-30%" y="-30%" width="160%" height="160%"><feGaussianBlur stdDeviation="5"/></filter>
<filter id="dBlurD" x="-40%" y="-40%" width="180%" height="180%"><feGaussianBlur stdDeviation="6.5"/></filter>
<filter id="dBlurC" x="-30%" y="-30%" width="160%" height="160%"><feGaussianBlur stdDeviation="14"/></filter>
</defs>
<g clip-path="url(#clipD)">
<rect x="670.3" y="445.6" width="260.7" height="232.6" fill="#8230b8"/>
<ellipse cx="800.5" cy="438.6" rx="72" ry="26" fill="#b8145e" filter="url(#dBlurC)"/>
<ellipse cx="800.5" cy="685.2" rx="72" ry="26" fill="#b8145e" filter="url(#dBlurC)"/>
<ellipse cx="663.3" cy="562.0" rx="26" ry="64" fill="#b8145e" filter="url(#dBlurC)"/>
<ellipse cx="938.0" cy="562.0" rx="26" ry="64" fill="#b8145e" filter="url(#dBlurC)"/>
<circle cx="672.3" cy="447.6" r="10" fill="#8430b6" filter="url(#dBlurC)"/>
<circle cx="929.0" cy="447.6" r="10" fill="#8430b6" filter="url(#dBlurC)"/>
<circle cx="672.3" cy="676.2" r="10" fill="#8430b6" filter="url(#dBlurC)"/>
<circle cx="929.0" cy="676.2" r="10" fill="#8430b6" filter="url(#dBlurC)"/>
<path d="M800.5 498.8C803.8 498.8 806.8 498.8 810.5 498.2C814.2 497.6 818.2 496.6 822.5 495.4C826.8 494.2 831.8 492.3 836.5 490.8C841.2 489.3 846.2 487.4 850.5 486.2C854.8 485.0 859.0 484.0 862.5 483.4C866.0 482.8 868.7 482.6 871.5 482.7C874.3 482.8 877.2 483.1 879.5 484.0C881.8 484.9 883.9 486.3 885.5 488.0C887.1 489.7 888.2 491.7 888.9 494.0C889.6 496.3 889.8 499.0 889.7 502.0C889.6 505.0 889.1 508.2 888.1 512.0C887.1 515.8 885.6 520.7 884.0 525.0C882.4 529.3 880.2 534.0 878.5 538.0C876.8 542.0 874.9 545.9 873.7 549.0C872.5 552.1 871.8 554.3 871.3 556.5C870.8 558.7 870.7 560.2 870.7 562.0C870.7 563.8 870.8 565.3 871.3 567.5C871.8 569.7 872.5 571.9 873.7 575.0C874.9 578.1 876.8 582.0 878.5 586.0C880.2 590.0 882.4 594.7 884.0 599.0C885.6 603.3 887.1 608.2 888.1 612.0C889.1 615.8 889.6 619.0 889.7 622.0C889.8 625.0 889.6 627.7 888.9 630.0C888.2 632.3 887.1 634.3 885.5 636.0C883.9 637.7 881.8 639.1 879.5 640.0C877.2 640.9 874.3 641.2 871.5 641.3C868.7 641.4 866.0 641.2 862.5 640.6C859.0 640.0 854.8 639.0 850.5 637.8C846.2 636.6 841.2 634.7 836.5 633.2C831.8 631.7 826.8 629.8 822.5 628.6C818.2 627.4 814.2 626.4 810.5 625.8C806.8 625.2 803.8 625.2 800.5 625.2C797.2 625.2 794.2 625.2 790.5 625.8C786.8 626.4 782.8 627.4 778.5 628.6C774.2 629.8 769.2 631.7 764.5 633.2C759.8 634.7 754.8 636.6 750.5 637.8C746.2 639.0 742.0 640.0 738.5 640.6C735.0 641.2 732.3 641.4 729.5 641.3C726.7 641.2 723.8 640.9 721.5 640.0C719.2 639.1 717.1 637.7 715.5 636.0C713.9 634.3 712.8 632.3 712.1 630.0C711.4 627.7 711.2 625.0 711.3 622.0C711.4 619.0 711.9 615.8 712.9 612.0C713.9 608.2 715.4 603.3 717.0 599.0C718.6 594.7 720.8 590.0 722.5 586.0C724.2 582.0 726.1 578.1 727.3 575.0C728.5 571.9 729.2 569.7 729.7 567.5C730.2 565.3 730.3 563.8 730.3 562.0C730.3 560.2 730.2 558.7 729.7 556.5C729.2 554.3 728.5 552.1 727.3 549.0C726.1 545.9 724.2 542.0 722.5 538.0C720.8 534.0 718.6 529.3 717.0 525.0C715.4 520.7 713.9 515.8 712.9 512.0C711.9 508.2 711.4 505.0 711.3 502.0C711.2 499.0 711.4 496.3 712.1 494.0C712.8 491.7 713.9 489.7 715.5 488.0C717.1 486.3 719.2 484.9 721.5 484.0C723.8 483.1 726.7 482.8 729.5 482.7C732.3 482.6 735.0 482.8 738.5 483.4C742.0 484.0 746.2 485.0 750.5 486.2C754.8 487.4 759.8 489.3 764.5 490.8C769.2 492.3 774.2 494.2 778.5 495.4C782.8 496.6 786.8 497.6 790.5 498.2C794.2 498.8 797.2 498.8 800.5 498.8Z" fill="#6e38cc" stroke="#5040ec" stroke-width="24" filter="url(#dBlurA)"/>
<path d="M800.5 498.8C803.8 498.8 806.8 498.8 810.5 498.2C814.2 497.6 818.2 496.6 822.5 495.4C826.8 494.2 831.8 492.3 836.5 490.8C841.2 489.3 846.2 487.4 850.5 486.2C854.8 485.0 859.0 484.0 862.5 483.4C866.0 482.8 868.7 482.6 871.5 482.7C874.3 482.8 877.2 483.1 879.5 484.0C881.8 484.9 883.9 486.3 885.5 488.0C887.1 489.7 888.2 491.7 888.9 494.0C889.6 496.3 889.8 499.0 889.7 502.0C889.6 505.0 889.1 508.2 888.1 512.0C887.1 515.8 885.6 520.7 884.0 525.0C882.4 529.3 880.2 534.0 878.5 538.0C876.8 542.0 874.9 545.9 873.7 549.0C872.5 552.1 871.8 554.3 871.3 556.5C870.8 558.7 870.7 560.2 870.7 562.0C870.7 563.8 870.8 565.3 871.3 567.5C871.8 569.7 872.5 571.9 873.7 575.0C874.9 578.1 876.8 582.0 878.5 586.0C880.2 590.0 882.4 594.7 884.0 599.0C885.6 603.3 887.1 608.2 888.1 612.0C889.1 615.8 889.6 619.0 889.7 622.0C889.8 625.0 889.6 627.7 888.9 630.0C888.2 632.3 887.1 634.3 885.5 636.0C883.9 637.7 881.8 639.1 879.5 640.0C877.2 640.9 874.3 641.2 871.5 641.3C868.7 641.4 866.0 641.2 862.5 640.6C859.0 640.0 854.8 639.0 850.5 637.8C846.2 636.6 841.2 634.7 836.5 633.2C831.8 631.7 826.8 629.8 822.5 628.6C818.2 627.4 814.2 626.4 810.5 625.8C806.8 625.2 803.8 625.2 800.5 625.2C797.2 625.2 794.2 625.2 790.5 625.8C786.8 626.4 782.8 627.4 778.5 628.6C774.2 629.8 769.2 631.7 764.5 633.2C759.8 634.7 754.8 636.6 750.5 637.8C746.2 639.0 742.0 640.0 738.5 640.6C735.0 641.2 732.3 641.4 729.5 641.3C726.7 641.2 723.8 640.9 721.5 640.0C719.2 639.1 717.1 637.7 715.5 636.0C713.9 634.3 712.8 632.3 712.1 630.0C711.4 627.7 711.2 625.0 711.3 622.0C711.4 619.0 711.9 615.8 712.9 612.0C713.9 608.2 715.4 603.3 717.0 599.0C718.6 594.7 720.8 590.0 722.5 586.0C724.2 582.0 726.1 578.1 727.3 575.0C728.5 571.9 729.2 569.7 729.7 567.5C730.2 565.3 730.3 563.8 730.3 562.0C730.3 560.2 730.2 558.7 729.7 556.5C729.2 554.3 728.5 552.1 727.3 549.0C726.1 545.9 724.2 542.0 722.5 538.0C720.8 534.0 718.6 529.3 717.0 525.0C715.4 520.7 713.9 515.8 712.9 512.0C711.9 508.2 711.4 505.0 711.3 502.0C711.2 499.0 711.4 496.3 712.1 494.0C712.8 491.7 713.9 489.7 715.5 488.0C717.1 486.3 719.2 484.9 721.5 484.0C723.8 483.1 726.7 482.8 729.5 482.7C732.3 482.6 735.0 482.8 738.5 483.4C742.0 484.0 746.2 485.0 750.5 486.2C754.8 487.4 759.8 489.3 764.5 490.8C769.2 492.3 774.2 494.2 778.5 495.4C782.8 496.6 786.8 497.6 790.5 498.2C794.2 498.8 797.2 498.8 800.5 498.8Z" fill="none" stroke="#4a44f8" stroke-width="12" filter="url(#dBlurB)"/>
<path d="M730.5 562.0H870.5M800.5 499.0V625.0" stroke="#5442ea" stroke-width="13" filter="url(#dBlurA)" opacity=".75"/>
<ellipse cx="770.5" cy="535.0" rx="24" ry="13" fill="#ac2084" opacity=".85" filter="url(#dBlurD)" transform="rotate(-42 770.5 535.0)"/>
<ellipse cx="770.5" cy="589.0" rx="24" ry="13" fill="#ac2084" opacity=".85" filter="url(#dBlurD)" transform="rotate(42 770.5 589.0)"/>
<ellipse cx="830.5" cy="535.0" rx="24" ry="13" fill="#ac2084" opacity=".85" filter="url(#dBlurD)" transform="rotate(42 830.5 535.0)"/>
<ellipse cx="830.5" cy="589.0" rx="24" ry="13" fill="#ac2084" opacity=".85" filter="url(#dBlurD)" transform="rotate(-42 830.5 589.0)"/>
<polygon points="800.5,542.0 822.5,562.0 800.5,582.0 778.5,562.0" fill="#5640ea" filter="url(#dBlurB)"/>
</g>
<path d="M800.5 498.8C803.8 498.8 806.8 498.8 810.5 498.2C814.2 497.6 818.2 496.6 822.5 495.4C826.8 494.2 831.8 492.3 836.5 490.8C841.2 489.3 846.2 487.4 850.5 486.2C854.8 485.0 859.0 484.0 862.5 483.4C866.0 482.8 868.7 482.6 871.5 482.7C874.3 482.8 877.2 483.1 879.5 484.0C881.8 484.9 883.9 486.3 885.5 488.0C887.1 489.7 888.2 491.7 888.9 494.0C889.6 496.3 889.8 499.0 889.7 502.0C889.6 505.0 889.1 508.2 888.1 512.0C887.1 515.8 885.6 520.7 884.0 525.0C882.4 529.3 880.2 534.0 878.5 538.0C876.8 542.0 874.9 545.9 873.7 549.0C872.5 552.1 871.8 554.3 871.3 556.5C870.8 558.7 870.7 560.2 870.7 562.0C870.7 563.8 870.8 565.3 871.3 567.5C871.8 569.7 872.5 571.9 873.7 575.0C874.9 578.1 876.8 582.0 878.5 586.0C880.2 590.0 882.4 594.7 884.0 599.0C885.6 603.3 887.1 608.2 888.1 612.0C889.1 615.8 889.6 619.0 889.7 622.0C889.8 625.0 889.6 627.7 888.9 630.0C888.2 632.3 887.1 634.3 885.5 636.0C883.9 637.7 881.8 639.1 879.5 640.0C877.2 640.9 874.3 641.2 871.5 641.3C868.7 641.4 866.0 641.2 862.5 640.6C859.0 640.0 854.8 639.0 850.5 637.8C846.2 636.6 841.2 634.7 836.5 633.2C831.8 631.7 826.8 629.8 822.5 628.6C818.2 627.4 814.2 626.4 810.5 625.8C806.8 625.2 803.8 625.2 800.5 625.2C797.2 625.2 794.2 625.2 790.5 625.8C786.8 626.4 782.8 627.4 778.5 628.6C774.2 629.8 769.2 631.7 764.5 633.2C759.8 634.7 754.8 636.6 750.5 637.8C746.2 639.0 742.0 640.0 738.5 640.6C735.0 641.2 732.3 641.4 729.5 641.3C726.7 641.2 723.8 640.9 721.5 640.0C719.2 639.1 717.1 637.7 715.5 636.0C713.9 634.3 712.8 632.3 712.1 630.0C711.4 627.7 711.2 625.0 711.3 622.0C711.4 619.0 711.9 615.8 712.9 612.0C713.9 608.2 715.4 603.3 717.0 599.0C718.6 594.7 720.8 590.0 722.5 586.0C724.2 582.0 726.1 578.1 727.3 575.0C728.5 571.9 729.2 569.7 729.7 567.5C730.2 565.3 730.3 563.8 730.3 562.0C730.3 560.2 730.2 558.7 729.7 556.5C729.2 554.3 728.5 552.1 727.3 549.0C726.1 545.9 724.2 542.0 722.5 538.0C720.8 534.0 718.6 529.3 717.0 525.0C715.4 520.7 713.9 515.8 712.9 512.0C711.9 508.2 711.4 505.0 711.3 502.0C711.2 499.0 711.4 496.3 712.1 494.0C712.8 491.7 713.9 489.7 715.5 488.0C717.1 486.3 719.2 484.9 721.5 484.0C723.8 483.1 726.7 482.8 729.5 482.7C732.3 482.6 735.0 482.8 738.5 483.4C742.0 484.0 746.2 485.0 750.5 486.2C754.8 487.4 759.8 489.3 764.5 490.8C769.2 492.3 774.2 494.2 778.5 495.4C782.8 496.6 786.8 497.6 790.5 498.2C794.2 498.8 797.2 498.8 800.5 498.8Z" fill="none" stroke="#fff" stroke-width="3.5"/>
<polygon points="800.2,557.9 805.3,562.4 800.2,566.9 795.1,562.4" fill="#fff" stroke="#fff" stroke-width="2.4" stroke-linejoin="round"/>
<text x="821" y="572.4" font-size="33" textLength="17" lengthAdjust="spacingAndGlyphs" font-weight="200" stroke="#000" stroke-width=".55" style="fill:#000;font-family:'DejaVu Sans Light','DejaVu Sans','Liberation Sans',sans-serif">Γ</text>
<text x="598.2" y="466.8" font-size="37.5" textLength="58.5" lengthAdjust="spacingAndGlyphs" stroke="#fff" stroke-width="1.45">0.25</text>
<text x="599.5" y="575.4" font-size="37.5" textLength="59.5" lengthAdjust="spacingAndGlyphs" stroke="#fff" stroke-width="1.45">0.00</text>
<text x="601.3" y="680.8" font-size="37.5" textLength="57.5" lengthAdjust="spacingAndGlyphs" stroke="#fff" stroke-width="1.45">0.25</text>
<text x="588.7" y="680.8" font-size="37.5" textLength="13.1" lengthAdjust="spacingAndGlyphs" stroke="#fff" stroke-width="1.40">-</text>
<text x="642.3" y="714.2" font-size="37.5" textLength="57.5" lengthAdjust="spacingAndGlyphs" stroke="#fff" stroke-width="1.45">0.25</text>
<text x="629.7" y="714.2" font-size="37.5" textLength="13.1" lengthAdjust="spacingAndGlyphs" stroke="#fff" stroke-width="1.40">-</text>
<text x="765.2" y="714.2" font-size="37.5" textLength="59.5" lengthAdjust="spacingAndGlyphs" stroke="#fff" stroke-width="1.45">0.00</text>
<text x="888.3" y="714.2" font-size="37.5" textLength="58.5" lengthAdjust="spacingAndGlyphs" stroke="#fff" stroke-width="1.45">0.25</text>
<text transform="translate(739.4 751.3) scale(0.81 1)" font-size="40.5" stroke="#fff" stroke-width="1.75"><tspan x="-2.7" y="0.0">k</tspan><tspan x="19.6" y="7.3" font-size="28.5" stroke-width="1.15">x</tspan><tspan x="36.1" y="0.0">(</tspan><tspan x="50.2" y="0.0">2</tspan><tspan x="80.9" y="0.0" font-size="37.5" font-style="italic">π</tspan><tspan x="120.4" y="0.0">/</tspan><tspan x="136.3" y="0.0" font-size="37.5">a</tspan><tspan x="159.4" y="0.0">)</tspan></text>
<text transform="translate(578.5 634.9) rotate(-90) scale(0.81 1)" font-size="40.5" stroke="#fff" stroke-width="1.75"><tspan x="-2.7" y="0.0">k</tspan><tspan x="19.8" y="7.3" font-size="28.5" stroke-width="1.15">y</tspan><tspan x="36.1" y="0.0">(</tspan><tspan x="50.2" y="0.0">2</tspan><tspan x="80.9" y="0.0" font-size="37.5" font-style="italic">π</tspan><tspan x="120.4" y="0.0">/</tspan><tspan x="136.3" y="0.0" font-size="37.5">a</tspan><tspan x="159.4" y="0.0">)</tspan></text>
<text x="529.5" y="434.0" font-size="50.0" textLength="56.0" lengthAdjust="spacingAndGlyphs" stroke="#fff" stroke-width="2.00">(d)</text>
<defs><linearGradient id="dBar" x1="0" y1="0" x2="0" y2="1"><stop offset="0" stop-color="#ff0000"/><stop offset=".1" stop-color="#f8040c"/><stop offset=".3" stop-color="#d4183c"/><stop offset=".5" stop-color="#a82878"/><stop offset=".7" stop-color="#7838b8"/><stop offset=".88" stop-color="#4c42ee"/><stop offset="1" stop-color="#4040ff"/></linearGradient></defs>
<rect x="956" y="508.2" width="24.6" height="155.5" fill="url(#dBar)"/>
<rect x="956" y="663.7" width="24.6" height="8.3" fill="#fff"/>
<rect x="956" y="508.2" width="24.6" height="163.8" fill="none" stroke="#555" stroke-width="2.2"/>
<text x="946.3" y="487.3" font-size="32.5" textLength="58.5" lengthAdjust="spacingAndGlyphs" stroke="#fff" stroke-width="1.15">(eV)</text>
<text x="986.5" y="529.8" font-size="31.0" textLength="16.0" lengthAdjust="spacingAndGlyphs" stroke="#fff" stroke-width="1.10">2</text>
<text x="986.5" y="685.5" font-size="35.0" textLength="17.5" lengthAdjust="spacingAndGlyphs" stroke="#fff" stroke-width="1.45">0</text>
</g>
</svg>
</body></html>
